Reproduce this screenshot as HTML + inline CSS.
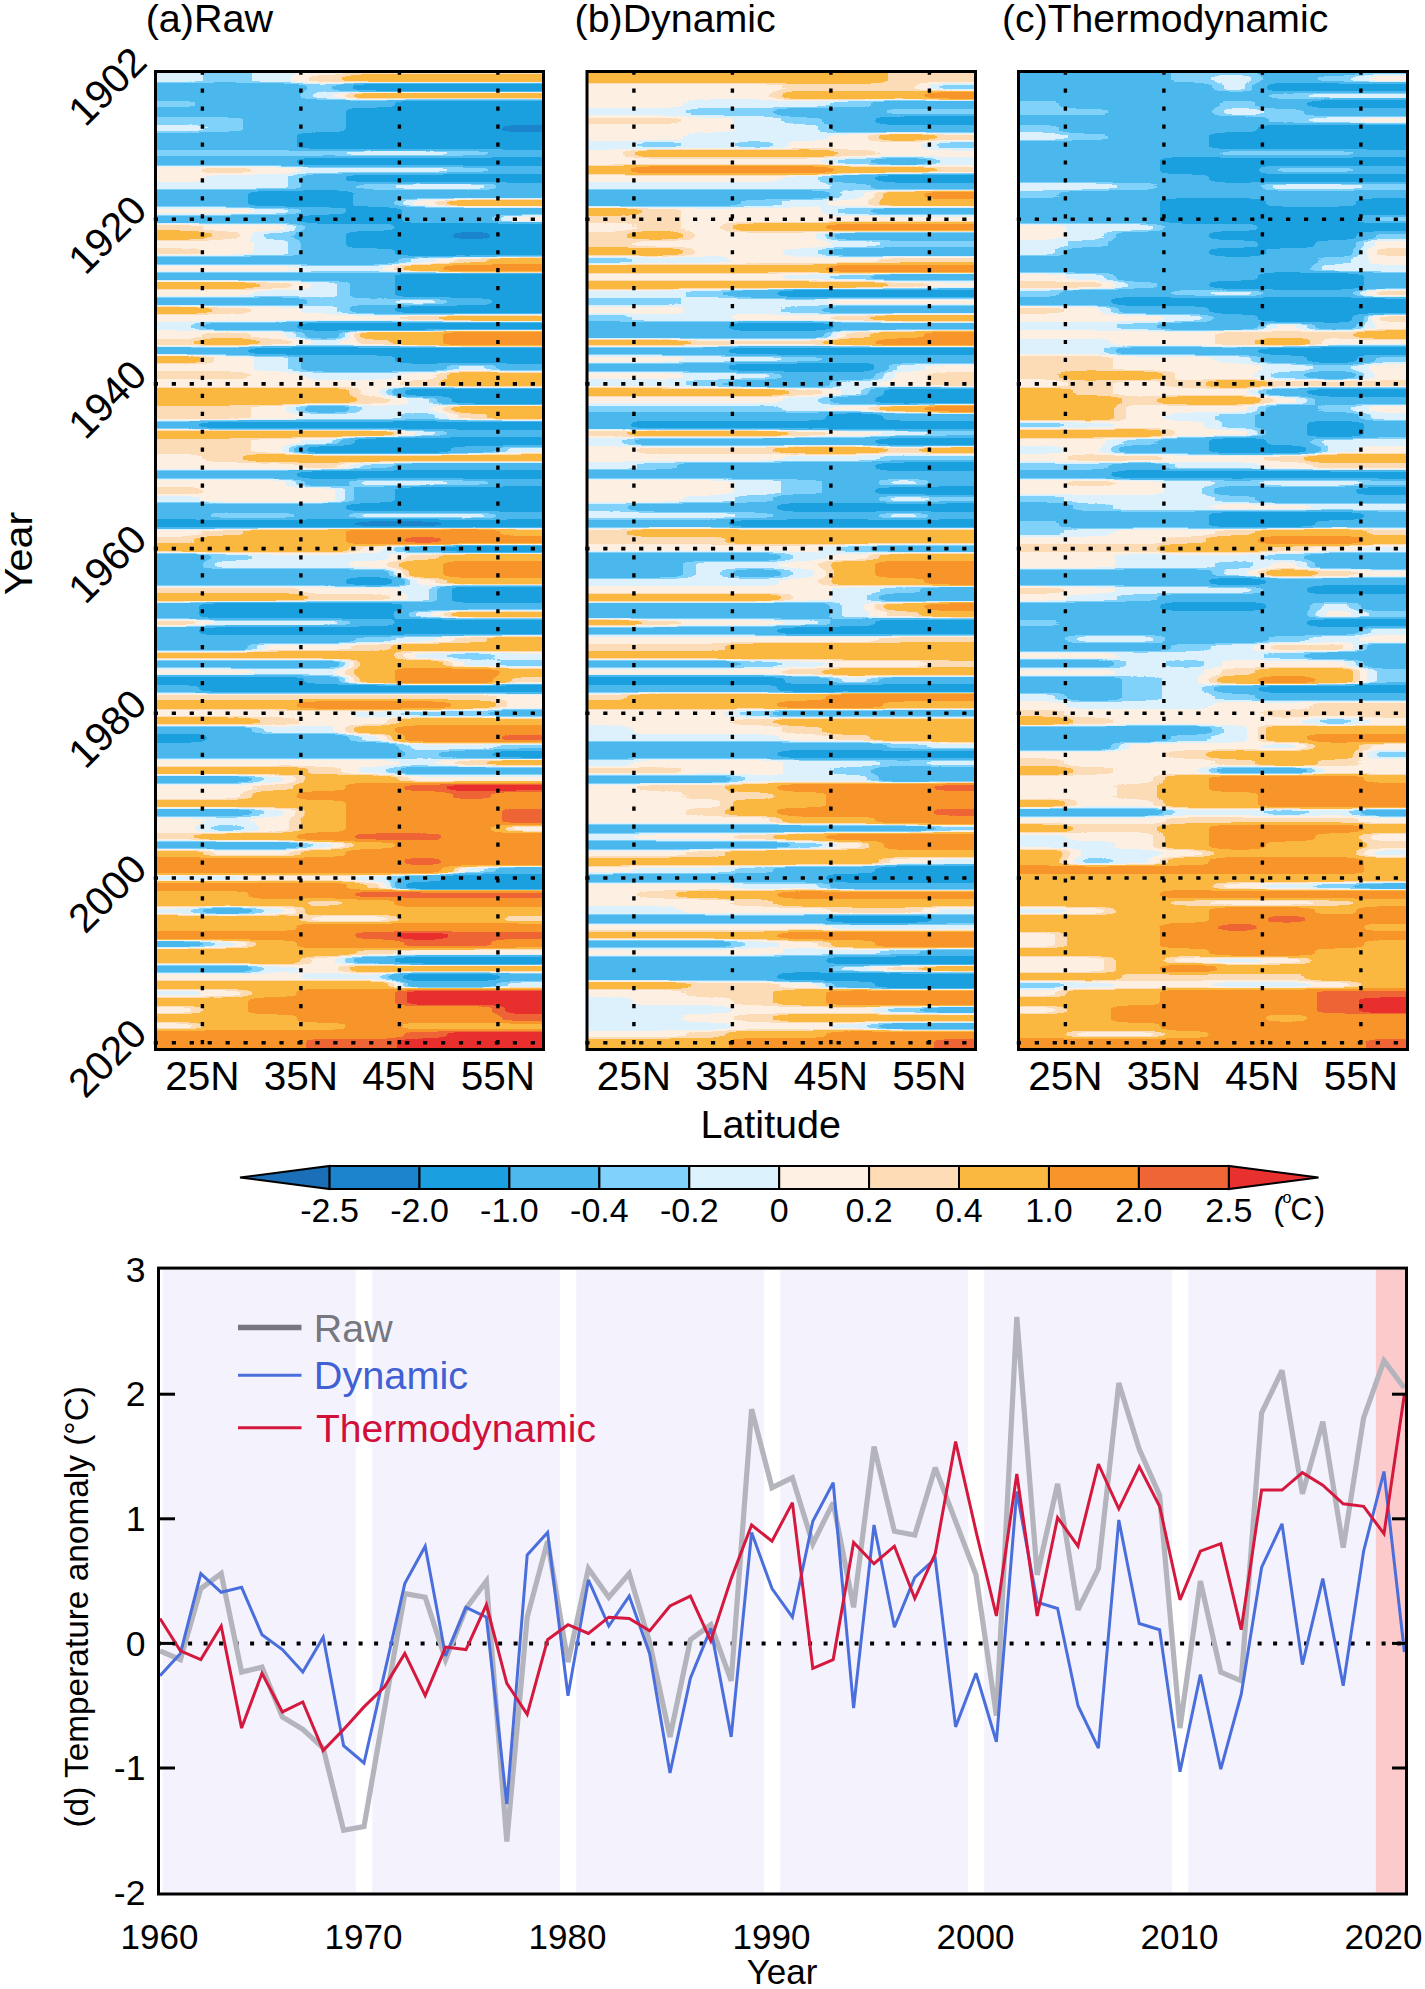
<!DOCTYPE html><html><head><meta charset="utf-8"><style>html,body{margin:0;padding:0;background:#fff;overflow:hidden;}svg{display:block}text{font-family:"Liberation Sans", sans-serif;}</style></head><body>
<svg width="1425" height="1989" viewBox="0 0 1425 1989">
<rect width="1425" height="1989" fill="#fff"/>
<defs><filter id="hm" filterUnits="userSpaceOnUse" x="0" y="0" width="1425" height="1989" color-interpolation-filters="sRGB"><feGaussianBlur stdDeviation="13.0 1.7"/><feComponentTransfer><feFuncR type="discrete" tableValues="0.102 0.102 0.102 0.102 0.102 0.102 0.102 0.102 0.102 0.102 0.102 0.102 0.102 0.102 0.102 0.102 0.102 0.102 0.102 0.102 0.102 0.102 0.298 0.298 0.298 0.298 0.298 0.298 0.502 0.502 0.863 0.863 0.996 0.996 0.992 0.992 0.984 0.984 0.984 0.984 0.984 0.984 0.969 0.969 0.969 0.969 0.969 0.969 0.969 0.969 0.969 0.969 0.937 0.937 0.937 0.937 0.937 0.910 0.910 0.910 0.910 0.910 0.910 0.910"/><feFuncG type="discrete" tableValues="0.435 0.435 0.435 0.435 0.435 0.435 0.435 0.522 0.522 0.522 0.522 0.522 0.627 0.627 0.627 0.627 0.627 0.627 0.627 0.627 0.627 0.627 0.722 0.722 0.722 0.722 0.722 0.722 0.824 0.824 0.949 0.949 0.941 0.941 0.863 0.863 0.722 0.722 0.722 0.722 0.722 0.722 0.584 0.584 0.584 0.584 0.584 0.584 0.584 0.584 0.584 0.584 0.396 0.396 0.396 0.396 0.396 0.188 0.188 0.188 0.188 0.188 0.188 0.188"/><feFuncB type="discrete" tableValues="0.722 0.722 0.722 0.722 0.722 0.722 0.722 0.800 0.800 0.800 0.800 0.800 0.878 0.878 0.878 0.878 0.878 0.878 0.878 0.878 0.878 0.878 0.933 0.933 0.933 0.933 0.933 0.933 0.988 0.988 0.992 0.992 0.886 0.886 0.714 0.714 0.251 0.251 0.251 0.251 0.251 0.251 0.165 0.165 0.165 0.165 0.165 0.165 0.165 0.165 0.165 0.165 0.208 0.208 0.208 0.208 0.208 0.180 0.180 0.180 0.180 0.180 0.180 0.180"/><feFuncA type="discrete" tableValues="1 1"/></feComponentTransfer></filter></defs>
<clipPath id="cpa"><rect x="156" y="72" width="387" height="977"/></clipPath>
<g clip-path="url(#cpa)"><g filter="url(#hm)">
<path fill="#7c7c7c" d="M94.0 30.00H202.9V75.12H94.0zM251.8 30.00H300.6V75.12H251.8zM94.0 75.12H202.9V83.35H94.0zM251.8 75.12H300.6V83.35H251.8zM300.6 91.59H349.5V99.82H300.6zM94.0 124.53H202.9V132.76H94.0zM349.5 149.23H447.2V157.47H349.5zM300.6 165.70H447.2V173.94H300.6zM202.9 173.94H300.6V182.17H202.9zM94.0 182.17H300.6V190.41H94.0zM398.4 182.17H496.1V190.41H398.4zM251.8 206.88H300.6V215.11H251.8zM251.8 239.82H300.6V248.05H251.8zM251.8 248.05H300.6V256.29H251.8zM398.4 256.29H447.2V264.52H398.4zM300.6 264.52H398.4V272.76H300.6zM300.6 280.99H349.5V289.23H300.6zM251.8 289.23H349.5V297.46H251.8zM398.4 297.46H447.2V305.70H398.4zM300.6 305.70H349.5V313.93H300.6zM94.0 322.17H202.9V330.40H94.0zM300.6 338.64H349.5V346.87H300.6zM251.8 355.11H300.6V363.34H251.8zM251.8 363.34H300.6V371.58H251.8zM447.2 363.34H496.1V371.58H447.2zM300.6 371.58H398.4V379.81H300.6zM398.4 396.28H447.2V404.52H398.4zM349.5 404.52H447.2V412.75H349.5zM300.6 412.75H398.4V420.99H300.6zM398.4 429.22H447.2V437.46H398.4zM300.6 437.46H349.5V445.69H300.6zM496.1 445.69H605.0V453.93H496.1zM349.5 478.63H447.2V486.87H349.5zM94.0 495.10H202.9V503.34H94.0zM349.5 511.57H496.1V519.81H349.5zM251.8 552.75H398.4V560.98H251.8zM202.9 560.98H349.5V569.22H202.9zM398.4 585.69H447.2V593.92H398.4zM398.4 593.92H447.2V602.16H398.4zM398.4 610.39H447.2V618.63H398.4zM202.9 618.63H349.5V626.86H202.9zM398.4 635.10H447.2V643.33H398.4zM398.4 651.57H447.2V659.80H398.4zM496.1 651.57H605.0V659.80H496.1zM447.2 659.80H496.1V668.04H447.2zM251.8 668.04H349.5V676.27H251.8zM349.5 709.21H398.4V717.45H349.5zM251.8 725.68H349.5V733.92H251.8zM349.5 733.92H398.4V742.15H349.5zM398.4 742.15H496.1V750.39H398.4zM398.4 758.62H447.2V766.86H398.4zM349.5 766.86H398.4V775.09H349.5zM251.8 775.09H300.6V783.33H251.8zM251.8 808.03H300.6V816.27H251.8zM202.9 816.27H251.8V824.50H202.9zM300.6 840.97H349.5V849.21H300.6zM447.2 865.68H496.1V873.91H447.2zM94.0 873.91H251.8V882.15H94.0zM349.5 873.91H398.4V882.15H349.5zM94.0 906.85H202.9V915.09H94.0zM251.8 906.85H300.6V915.09H251.8zM202.9 939.79H251.8V948.03H202.9zM251.8 964.50H300.6V972.73H251.8zM300.6 972.73H398.4V980.97H300.6zM496.1 980.97H605.0V989.20H496.1zM94.0 989.20H202.9V997.44H94.0z"/>
<path fill="#747474" d="M202.9 30.00H251.8V75.12H202.9zM202.9 75.12H251.8V83.35H202.9zM300.6 83.35H349.5V91.59H300.6zM94.0 99.82H202.9V108.06H94.0zM94.0 116.29H251.8V124.53H94.0zM202.9 124.53H251.8V132.76H202.9zM94.0 149.23H349.5V157.47H94.0zM447.2 149.23H496.1V157.47H447.2zM447.2 165.70H496.1V173.94H447.2zM349.5 182.17H398.4V190.41H349.5zM251.8 231.58H300.6V239.82H251.8zM300.6 297.46H398.4V305.70H300.6zM398.4 412.75H447.2V420.99H398.4zM349.5 462.16H398.4V470.40H349.5zM447.2 478.63H496.1V486.87H447.2zM202.9 511.57H300.6V519.81H202.9zM202.9 552.75H251.8V560.98H202.9zM349.5 635.10H398.4V643.33H349.5zM447.2 651.57H496.1V659.80H447.2zM496.1 659.80H605.0V668.04H496.1zM398.4 709.21H496.1V717.45H398.4zM496.1 742.15H605.0V750.39H496.1zM398.4 750.39H447.2V758.62H398.4zM202.9 824.50H251.8V832.74H202.9z"/>
<path fill="#838383" d="M300.6 30.00H349.5V75.12H300.6zM94.0 165.70H202.9V173.94H94.0zM251.8 165.70H300.6V173.94H251.8zM94.0 173.94H202.9V182.17H94.0zM398.4 198.64H447.2V206.88H398.4zM94.0 206.88H251.8V215.11H94.0zM496.1 215.11H605.0V223.35H496.1zM202.9 223.35H300.6V231.58H202.9zM94.0 239.82H251.8V248.05H94.0zM202.9 248.05H251.8V256.29H202.9zM94.0 264.52H300.6V272.76H94.0zM94.0 289.23H251.8V297.46H94.0zM251.8 305.70H300.6V313.93H251.8zM94.0 313.93H398.4V322.17H94.0zM94.0 330.40H202.9V338.64H94.0zM251.8 330.40H300.6V338.64H251.8zM202.9 355.11H251.8V363.34H202.9zM94.0 363.34H251.8V371.58H94.0zM251.8 371.58H300.6V379.81H251.8zM398.4 371.58H447.2V379.81H398.4zM94.0 379.81H398.4V388.05H94.0zM349.5 388.05H398.4V396.28H349.5zM251.8 404.52H300.6V412.75H251.8zM251.8 412.75H300.6V420.99H251.8zM251.8 437.46H300.6V445.69H251.8zM251.8 445.69H300.6V453.93H251.8zM94.0 453.93H202.9V462.16H94.0zM94.0 462.16H300.6V470.40H94.0zM94.0 478.63H300.6V486.87H94.0zM202.9 486.87H349.5V495.10H202.9zM202.9 495.10H349.5V503.34H202.9zM94.0 528.04H202.9V536.28H94.0zM349.5 544.51H398.4V552.75H349.5zM349.5 560.98H398.4V569.22H349.5zM398.4 577.45H447.2V585.69H398.4zM300.6 585.69H398.4V593.92H300.6zM251.8 643.33H349.5V651.57H251.8zM94.0 668.04H251.8V676.27H94.0zM496.1 692.74H605.0V700.98H496.1zM496.1 700.98H605.0V709.21H496.1zM94.0 709.21H349.5V717.45H94.0zM300.6 717.45H398.4V725.68H300.6zM94.0 758.62H398.4V766.86H94.0zM398.4 775.09H605.0V783.33H398.4zM94.0 783.33H251.8V791.56H94.0zM94.0 791.56H251.8V799.80H94.0zM94.0 816.27H202.9V824.50H94.0zM251.8 816.27H300.6V824.50H251.8zM94.0 824.50H202.9V832.74H94.0zM251.8 824.50H300.6V832.74H251.8zM496.1 824.50H605.0V832.74H496.1zM202.9 849.21H300.6V857.44H202.9zM251.8 873.91H349.5V882.15H251.8zM300.6 915.09H398.4V923.32H300.6zM398.4 948.03H605.0V956.26H398.4zM300.6 956.26H349.5V964.50H300.6zM300.6 964.50H349.5V972.73H300.6zM94.0 972.73H300.6V980.97H94.0zM202.9 989.20H251.8V997.44H202.9zM94.0 1005.67H202.9V1013.91H94.0zM94.0 1022.14H202.9V1030.38H94.0z"/>
<path fill="#8b8b8b" d="M349.5 30.00H605.0V75.12H349.5zM300.6 75.12H349.5V83.35H300.6zM202.9 165.70H251.8V173.94H202.9zM94.0 223.35H202.9V231.58H94.0zM202.9 231.58H251.8V239.82H202.9zM94.0 248.05H202.9V256.29H94.0zM447.2 256.29H496.1V264.52H447.2zM251.8 280.99H300.6V289.23H251.8zM202.9 305.70H251.8V313.93H202.9zM398.4 313.93H447.2V322.17H398.4zM202.9 330.40H251.8V338.64H202.9zM94.0 338.64H202.9V346.87H94.0zM251.8 338.64H300.6V346.87H251.8zM349.5 338.64H398.4V346.87H349.5zM94.0 371.58H251.8V379.81H94.0zM398.4 379.81H447.2V388.05H398.4zM349.5 396.28H398.4V404.52H349.5zM94.0 404.52H251.8V412.75H94.0zM94.0 412.75H251.8V420.99H94.0zM447.2 412.75H496.1V420.99H447.2zM94.0 437.46H251.8V445.69H94.0zM94.0 445.69H251.8V453.93H94.0zM202.9 453.93H251.8V462.16H202.9zM300.6 462.16H349.5V470.40H300.6zM94.0 486.87H202.9V495.10H94.0zM202.9 528.04H251.8V536.28H202.9zM94.0 536.28H202.9V544.51H94.0zM398.4 552.75H447.2V560.98H398.4zM94.0 585.69H300.6V593.92H94.0zM300.6 593.92H398.4V602.16H300.6zM94.0 618.63H202.9V626.86H94.0zM447.2 635.10H496.1V643.33H447.2zM349.5 643.33H398.4V651.57H349.5zM496.1 676.27H605.0V684.51H496.1zM94.0 692.74H496.1V700.98H94.0zM251.8 717.45H300.6V725.68H251.8zM447.2 758.62H496.1V766.86H447.2zM300.6 766.86H349.5V775.09H300.6zM251.8 783.33H300.6V791.56H251.8zM94.0 832.74H202.9V840.97H94.0zM349.5 882.15H398.4V890.38H349.5zM300.6 898.62H349.5V906.85H300.6zM496.1 915.09H605.0V923.32H496.1zM349.5 948.03H398.4V956.26H349.5z"/>
<path fill="#9b9b9b" d="M349.5 75.12H605.0V83.35H349.5zM349.5 91.59H605.0V99.82H349.5zM447.2 198.64H605.0V206.88H447.2zM94.0 231.58H202.9V239.82H94.0zM496.1 256.29H605.0V264.52H496.1zM398.4 264.52H447.2V272.76H398.4zM94.0 280.99H251.8V289.23H94.0zM94.0 305.70H202.9V313.93H94.0zM447.2 313.93H605.0V322.17H447.2zM349.5 330.40H447.2V338.64H349.5zM202.9 338.64H251.8V346.87H202.9zM398.4 338.64H447.2V346.87H398.4zM94.0 355.11H202.9V363.34H94.0zM447.2 371.58H605.0V379.81H447.2zM447.2 379.81H605.0V388.05H447.2zM94.0 388.05H349.5V396.28H94.0zM94.0 396.28H349.5V404.52H94.0zM447.2 404.52H605.0V412.75H447.2zM496.1 412.75H605.0V420.99H496.1zM94.0 429.22H398.4V437.46H94.0zM251.8 453.93H605.0V462.16H251.8zM251.8 528.04H349.5V536.28H251.8zM496.1 528.04H605.0V536.28H496.1zM202.9 536.28H349.5V544.51H202.9zM94.0 544.51H349.5V552.75H94.0zM447.2 552.75H605.0V560.98H447.2zM398.4 560.98H447.2V569.22H398.4zM398.4 569.22H447.2V577.45H398.4zM447.2 577.45H605.0V585.69H447.2zM94.0 593.92H300.6V602.16H94.0zM447.2 610.39H605.0V618.63H447.2zM496.1 635.10H605.0V643.33H496.1zM398.4 643.33H605.0V651.57H398.4zM94.0 651.57H398.4V659.80H94.0zM349.5 659.80H447.2V668.04H349.5zM349.5 668.04H398.4V676.27H349.5zM496.1 668.04H605.0V676.27H496.1zM349.5 676.27H398.4V684.51H349.5zM94.0 700.98H300.6V709.21H94.0zM447.2 700.98H496.1V709.21H447.2zM94.0 717.45H251.8V725.68H94.0zM398.4 717.45H605.0V725.68H398.4zM349.5 725.68H398.4V733.92H349.5zM496.1 758.62H605.0V766.86H496.1zM94.0 766.86H300.6V775.09H94.0zM300.6 775.09H398.4V783.33H300.6zM300.6 783.33H349.5V791.56H300.6zM251.8 791.56H300.6V799.80H251.8zM94.0 799.80H349.5V808.03H94.0zM300.6 808.03H349.5V816.27H300.6zM300.6 816.27H349.5V824.50H300.6zM300.6 824.50H349.5V832.74H300.6zM202.9 832.74H300.6V840.97H202.9zM349.5 840.97H398.4V849.21H349.5zM94.0 849.21H202.9V857.44H94.0zM300.6 849.21H349.5V857.44H300.6zM94.0 890.38H251.8V898.62H94.0zM94.0 898.62H300.6V906.85H94.0zM349.5 898.62H398.4V906.85H349.5zM300.6 906.85H605.0V915.09H300.6zM94.0 915.09H300.6V923.32H94.0zM398.4 915.09H496.1V923.32H398.4zM94.0 923.32H300.6V931.56H94.0zM251.8 939.79H300.6V948.03H251.8zM94.0 948.03H349.5V956.26H94.0zM94.0 956.26H300.6V964.50H94.0zM349.5 964.50H605.0V972.73H349.5zM94.0 980.97H398.4V989.20H94.0zM251.8 989.20H300.6V997.44H251.8zM94.0 997.44H251.8V1005.67H94.0zM202.9 1005.67H251.8V1013.91H202.9zM94.0 1013.91H300.6V1022.14H94.0zM202.9 1022.14H349.5V1030.38H202.9zM398.4 1022.14H605.0V1030.38H398.4z"/>
<path fill="#646464" d="M94.0 83.35H300.6V91.59H94.0zM94.0 91.59H300.6V99.82H94.0zM202.9 99.82H398.4V108.06H202.9zM94.0 108.06H349.5V116.29H94.0zM251.8 116.29H349.5V124.53H251.8zM251.8 124.53H349.5V132.76H251.8zM94.0 132.76H300.6V141.00H94.0zM94.0 141.00H300.6V149.23H94.0zM496.1 149.23H605.0V157.47H496.1zM94.0 157.47H300.6V165.70H94.0zM496.1 165.70H605.0V173.94H496.1zM300.6 173.94H349.5V182.17H300.6zM300.6 182.17H349.5V190.41H300.6zM496.1 182.17H605.0V190.41H496.1zM94.0 190.41H251.8V198.64H94.0zM349.5 190.41H605.0V198.64H349.5zM94.0 198.64H251.8V206.88H94.0zM349.5 198.64H398.4V206.88H349.5zM300.6 206.88H349.5V215.11H300.6zM398.4 206.88H605.0V215.11H398.4zM94.0 215.11H300.6V223.35H94.0zM398.4 215.11H496.1V223.35H398.4zM300.6 223.35H398.4V231.58H300.6zM300.6 231.58H349.5V239.82H300.6zM300.6 239.82H349.5V248.05H300.6zM300.6 248.05H398.4V256.29H300.6zM94.0 256.29H398.4V264.52H94.0zM94.0 272.76H398.4V280.99H94.0zM349.5 280.99H398.4V289.23H349.5zM349.5 289.23H398.4V297.46H349.5zM94.0 297.46H300.6V305.70H94.0zM447.2 297.46H496.1V305.70H447.2zM349.5 305.70H398.4V313.93H349.5zM202.9 322.17H300.6V330.40H202.9zM300.6 330.40H349.5V338.64H300.6zM94.0 346.87H251.8V355.11H94.0zM300.6 355.11H398.4V363.34H300.6zM300.6 363.34H447.2V371.58H300.6zM496.1 363.34H605.0V371.58H496.1zM300.6 404.52H349.5V412.75H300.6zM94.0 420.99H202.9V429.22H94.0zM447.2 429.22H605.0V437.46H447.2zM447.2 445.69H496.1V453.93H447.2zM398.4 462.16H605.0V470.40H398.4zM94.0 470.40H300.6V478.63H94.0zM300.6 478.63H349.5V486.87H300.6zM496.1 478.63H605.0V486.87H496.1zM349.5 486.87H398.4V495.10H349.5zM349.5 495.10H398.4V503.34H349.5zM94.0 503.34H349.5V511.57H94.0zM94.0 511.57H202.9V519.81H94.0zM300.6 511.57H349.5V519.81H300.6zM496.1 511.57H605.0V519.81H496.1zM398.4 544.51H447.2V552.75H398.4zM94.0 552.75H202.9V560.98H94.0zM94.0 560.98H202.9V569.22H94.0zM94.0 569.22H398.4V577.45H94.0zM94.0 577.45H349.5V585.69H94.0zM94.0 602.16H202.9V610.39H94.0zM398.4 602.16H605.0V610.39H398.4zM94.0 610.39H202.9V618.63H94.0zM349.5 618.63H398.4V626.86H349.5zM94.0 626.86H202.9V635.10H94.0zM94.0 635.10H349.5V643.33H94.0zM94.0 643.33H251.8V651.57H94.0zM94.0 659.80H349.5V668.04H94.0zM300.6 676.27H349.5V684.51H300.6zM94.0 684.51H202.9V692.74H94.0zM496.1 709.21H605.0V717.45H496.1zM94.0 725.68H251.8V733.92H94.0zM202.9 733.92H349.5V742.15H202.9zM94.0 742.15H398.4V750.39H94.0zM94.0 750.39H398.4V758.62H94.0zM447.2 750.39H496.1V758.62H447.2zM398.4 766.86H605.0V775.09H398.4zM94.0 775.09H251.8V783.33H94.0zM94.0 808.03H251.8V816.27H94.0zM94.0 840.97H300.6V849.21H94.0zM496.1 865.68H605.0V873.91H496.1zM398.4 873.91H447.2V882.15H398.4zM202.9 906.85H251.8V915.09H202.9zM94.0 939.79H202.9V948.03H94.0zM349.5 956.26H398.4V964.50H349.5zM94.0 964.50H251.8V972.73H94.0zM496.1 972.73H605.0V980.97H496.1zM398.4 980.97H496.1V989.20H398.4z"/>
<path fill="#444444" d="M349.5 83.35H605.0V91.59H349.5zM398.4 99.82H605.0V108.06H398.4zM349.5 108.06H605.0V116.29H349.5zM349.5 116.29H605.0V124.53H349.5zM349.5 124.53H496.1V132.76H349.5zM300.6 132.76H605.0V141.00H300.6zM300.6 141.00H605.0V149.23H300.6zM300.6 157.47H605.0V165.70H300.6zM349.5 173.94H605.0V182.17H349.5zM251.8 190.41H349.5V198.64H251.8zM251.8 198.64H349.5V206.88H251.8zM349.5 206.88H398.4V215.11H349.5zM300.6 215.11H398.4V223.35H300.6zM398.4 223.35H605.0V231.58H398.4zM349.5 231.58H447.2V239.82H349.5zM496.1 231.58H605.0V239.82H496.1zM349.5 239.82H605.0V248.05H349.5zM398.4 248.05H605.0V256.29H398.4zM398.4 272.76H605.0V280.99H398.4zM398.4 280.99H605.0V289.23H398.4zM398.4 289.23H605.0V297.46H398.4zM496.1 297.46H605.0V305.70H496.1zM398.4 305.70H605.0V313.93H398.4zM300.6 322.17H605.0V330.40H300.6zM251.8 346.87H605.0V355.11H251.8zM398.4 355.11H605.0V363.34H398.4zM398.4 388.05H605.0V396.28H398.4zM447.2 396.28H605.0V404.52H447.2zM202.9 420.99H605.0V429.22H202.9zM349.5 437.46H605.0V445.69H349.5zM300.6 445.69H447.2V453.93H300.6zM300.6 470.40H605.0V478.63H300.6zM398.4 486.87H605.0V495.10H398.4zM398.4 495.10H605.0V503.34H398.4zM349.5 503.34H605.0V511.57H349.5zM94.0 519.81H349.5V528.04H94.0zM447.2 519.81H605.0V528.04H447.2zM447.2 544.51H605.0V552.75H447.2zM349.5 577.45H398.4V585.69H349.5zM447.2 585.69H605.0V593.92H447.2zM447.2 593.92H605.0V602.16H447.2zM202.9 602.16H398.4V610.39H202.9zM202.9 610.39H398.4V618.63H202.9zM398.4 618.63H605.0V626.86H398.4zM202.9 626.86H605.0V635.10H202.9zM94.0 676.27H300.6V684.51H94.0zM202.9 684.51H605.0V692.74H202.9zM94.0 733.92H202.9V742.15H94.0zM496.1 750.39H605.0V758.62H496.1zM447.2 873.91H605.0V882.15H447.2zM398.4 882.15H605.0V890.38H398.4zM398.4 956.26H605.0V964.50H398.4zM398.4 972.73H496.1V980.97H398.4z"/>
<path fill="#262626" d="M496.1 124.53H605.0V132.76H496.1zM447.2 231.58H496.1V239.82H447.2zM349.5 519.81H447.2V528.04H349.5z"/>
<path fill="#bbbbbb" d="M447.2 264.52H605.0V272.76H447.2zM447.2 330.40H605.0V338.64H447.2zM447.2 338.64H605.0V346.87H447.2zM349.5 528.04H496.1V536.28H349.5zM349.5 536.28H398.4V544.51H349.5zM447.2 536.28H605.0V544.51H447.2zM447.2 560.98H605.0V569.22H447.2zM447.2 569.22H605.0V577.45H447.2zM398.4 668.04H496.1V676.27H398.4zM398.4 676.27H496.1V684.51H398.4zM300.6 700.98H447.2V709.21H300.6zM398.4 725.68H605.0V733.92H398.4zM398.4 733.92H496.1V742.15H398.4zM349.5 783.33H398.4V791.56H349.5zM300.6 791.56H447.2V799.80H300.6zM496.1 791.56H605.0V799.80H496.1zM349.5 799.80H605.0V808.03H349.5zM349.5 808.03H496.1V816.27H349.5zM349.5 816.27H496.1V824.50H349.5zM349.5 824.50H496.1V832.74H349.5zM300.6 832.74H349.5V840.97H300.6zM447.2 832.74H605.0V840.97H447.2zM398.4 840.97H605.0V849.21H398.4zM349.5 849.21H605.0V857.44H349.5zM94.0 857.44H398.4V865.68H94.0zM447.2 857.44H605.0V865.68H447.2zM94.0 865.68H447.2V873.91H94.0zM94.0 882.15H349.5V890.38H94.0zM251.8 890.38H349.5V898.62H251.8zM398.4 898.62H605.0V906.85H398.4zM300.6 923.32H605.0V931.56H300.6zM94.0 931.56H349.5V939.79H94.0zM300.6 939.79H398.4V948.03H300.6zM496.1 939.79H605.0V948.03H496.1zM300.6 989.20H398.4V997.44H300.6zM251.8 997.44H398.4V1005.67H251.8zM251.8 1005.67H496.1V1013.91H251.8zM300.6 1013.91H496.1V1022.14H300.6zM349.5 1022.14H398.4V1030.38H349.5zM94.0 1030.38H398.4V1038.61H94.0zM94.0 1038.61H300.6V1091.00H94.0z"/>
<path fill="#d9d9d9" d="M398.4 536.28H447.2V544.51H398.4zM496.1 733.92H605.0V742.15H496.1zM398.4 783.33H447.2V791.56H398.4zM447.2 791.56H496.1V799.80H447.2zM496.1 808.03H605.0V816.27H496.1zM496.1 816.27H605.0V824.50H496.1zM349.5 832.74H447.2V840.97H349.5zM398.4 857.44H447.2V865.68H398.4zM349.5 890.38H605.0V898.62H349.5zM349.5 931.56H398.4V939.79H349.5zM447.2 931.56H605.0V939.79H447.2zM398.4 939.79H496.1V948.03H398.4zM496.1 1013.91H605.0V1022.14H496.1zM398.4 1030.38H447.2V1038.61H398.4zM300.6 1038.61H398.4V1091.00H300.6z"/>
<path fill="#efefef" d="M447.2 783.33H605.0V791.56H447.2zM398.4 931.56H447.2V939.79H398.4zM398.4 989.20H605.0V997.44H398.4zM398.4 997.44H605.0V1005.67H398.4zM496.1 1005.67H605.0V1013.91H496.1zM447.2 1030.38H605.0V1038.61H447.2zM398.4 1038.61H605.0V1091.00H398.4z"/>
</g></g>
<g stroke="#000" stroke-width="3.6" stroke-dasharray="4.2 13.75" fill="none"><line x1="202.4" y1="70.66" x2="202.4" y2="1049" stroke-width="3.4"/><line x1="300.9" y1="70.66" x2="300.9" y2="1049" stroke-width="3.4"/><line x1="399.4" y1="70.66" x2="399.4" y2="1049" stroke-width="3.4"/><line x1="497.9" y1="70.66" x2="497.9" y2="1049" stroke-width="3.4"/><line x1="153.8" y1="219.2" x2="543" y2="219.2"/><line x1="153.8" y1="383.9" x2="543" y2="383.9"/><line x1="153.8" y1="548.6" x2="543" y2="548.6"/><line x1="153.8" y1="713.3" x2="543" y2="713.3"/><line x1="153.8" y1="878.0" x2="543" y2="878.0"/><line x1="153.8" y1="1042.7" x2="543" y2="1042.7"/></g>
<rect x="155.5" y="71.5" width="388" height="978" fill="none" stroke="#000" stroke-width="3"/>
<text x="145.7" y="32" font-size="38" textLength="127.4" lengthAdjust="spacingAndGlyphs">(a)Raw</text>
<text x="202.4" y="1089.5" font-size="40.5" text-anchor="middle">25N</text>
<text x="300.9" y="1089.5" font-size="40.5" text-anchor="middle">35N</text>
<text x="399.4" y="1089.5" font-size="40.5" text-anchor="middle">45N</text>
<text x="497.9" y="1089.5" font-size="40.5" text-anchor="middle">55N</text>
<clipPath id="cpb"><rect x="587.5" y="72" width="387.5" height="977"/></clipPath>
<g clip-path="url(#cpb)"><g filter="url(#hm)">
<path fill="#9b9b9b" d="M525.5 30.00H879.1V75.12H525.5zM525.5 75.12H879.1V83.35H525.5zM781.2 91.59H928.1V99.82H781.2zM879.1 132.76H928.1V141.00H879.1zM634.4 149.23H830.2V157.47H634.4zM525.5 165.70H634.4V173.94H525.5zM830.2 165.70H928.1V173.94H830.2zM879.1 190.41H928.1V198.64H879.1zM879.1 198.64H1037.0V206.88H879.1zM525.5 206.88H634.4V215.11H525.5zM732.3 223.35H830.2V231.58H732.3zM634.4 231.58H683.4V239.82H634.4zM525.5 248.05H683.4V256.29H525.5zM525.5 264.52H830.2V272.76H525.5zM525.5 280.99H879.1V289.23H525.5zM879.1 313.93H1037.0V322.17H879.1zM879.1 330.40H928.1V338.64H879.1zM525.5 338.64H683.4V346.87H525.5zM830.2 338.64H879.1V346.87H830.2zM525.5 388.05H781.2V396.28H525.5zM879.1 404.52H928.1V412.75H879.1zM634.4 429.22H781.2V437.46H634.4zM781.2 445.69H879.1V453.93H781.2zM928.1 445.69H1037.0V453.93H928.1zM634.4 528.04H1037.0V536.28H634.4zM732.3 536.28H1037.0V544.51H732.3zM879.1 552.75H1037.0V560.98H879.1zM830.2 560.98H879.1V569.22H830.2zM830.2 569.22H879.1V577.45H830.2zM830.2 577.45H928.1V585.69H830.2zM525.5 593.92H781.2V602.16H525.5zM879.1 602.16H928.1V610.39H879.1zM928.1 610.39H1037.0V618.63H928.1zM525.5 618.63H634.4V626.86H525.5zM732.3 643.33H1037.0V651.57H732.3zM525.5 651.57H1037.0V659.80H525.5zM830.2 668.04H1037.0V676.27H830.2zM634.4 692.74H830.2V700.98H634.4zM525.5 700.98H781.2V709.21H525.5zM879.1 700.98H1037.0V709.21H879.1zM781.2 717.45H1037.0V725.68H781.2zM830.2 725.68H1037.0V733.92H830.2zM879.1 733.92H1037.0V742.15H879.1zM732.3 783.33H781.2V791.56H732.3zM781.2 791.56H830.2V799.80H781.2zM732.3 799.80H830.2V808.03H732.3zM732.3 808.03H781.2V816.27H732.3zM781.2 816.27H879.1V824.50H781.2zM781.2 832.74H830.2V840.97H781.2zM732.3 849.21H1037.0V857.44H732.3zM525.5 857.44H879.1V865.68H525.5zM683.4 890.38H781.2V898.62H683.4zM781.2 898.62H1037.0V906.85H781.2zM525.5 931.56H781.2V939.79H525.5zM830.2 939.79H879.1V948.03H830.2zM928.1 964.50H1037.0V972.73H928.1zM525.5 980.97H683.4V989.20H525.5zM781.2 989.20H830.2V997.44H781.2zM781.2 997.44H830.2V1005.67H781.2zM781.2 1013.91H1037.0V1022.14H781.2zM732.3 1030.38H830.2V1038.61H732.3zM525.5 1038.61H732.3V1091.00H525.5z"/>
<path fill="#8b8b8b" d="M879.1 30.00H1037.0V75.12H879.1zM879.1 75.12H1037.0V83.35H879.1zM781.2 83.35H928.1V91.59H781.2zM525.5 116.29H683.4V124.53H525.5zM928.1 132.76H1037.0V141.00H928.1zM830.2 149.23H879.1V157.47H830.2zM928.1 165.70H1037.0V173.94H928.1zM634.4 206.88H683.4V215.11H634.4zM525.5 215.11H683.4V223.35H525.5zM634.4 223.35H683.4V231.58H634.4zM525.5 231.58H634.4V239.82H525.5zM525.5 239.82H634.4V248.05H525.5zM879.1 256.29H1037.0V264.52H879.1zM879.1 280.99H928.1V289.23H879.1zM830.2 313.93H879.1V322.17H830.2zM830.2 330.40H879.1V338.64H830.2zM683.4 338.64H830.2V346.87H683.4zM928.1 371.58H1037.0V379.81H928.1zM928.1 379.81H1037.0V388.05H928.1zM781.2 388.05H830.2V396.28H781.2zM525.5 429.22H634.4V437.46H525.5zM781.2 429.22H830.2V437.46H781.2zM634.4 445.69H781.2V453.93H634.4zM879.1 445.69H928.1V453.93H879.1zM525.5 528.04H634.4V536.28H525.5zM525.5 536.28H732.3V544.51H525.5zM879.1 610.39H928.1V618.63H879.1zM634.4 618.63H683.4V626.86H634.4zM879.1 635.10H1037.0V643.33H879.1zM525.5 643.33H732.3V651.57H525.5zM928.1 659.80H1037.0V668.04H928.1zM781.2 668.04H830.2V676.27H781.2zM525.5 692.74H634.4V700.98H525.5zM732.3 717.45H781.2V725.68H732.3zM781.2 725.68H830.2V733.92H781.2zM830.2 733.92H879.1V742.15H830.2zM525.5 766.86H683.4V775.09H525.5zM634.4 783.33H732.3V791.56H634.4zM683.4 791.56H781.2V799.80H683.4zM683.4 808.03H732.3V816.27H683.4zM732.3 832.74H781.2V840.97H732.3zM683.4 849.21H732.3V857.44H683.4zM634.4 890.38H683.4V898.62H634.4zM732.3 898.62H781.2V906.85H732.3zM830.2 906.85H928.1V915.09H830.2zM879.1 964.50H928.1V972.73H879.1zM683.4 980.97H781.2V989.20H683.4zM683.4 989.20H781.2V997.44H683.4zM732.3 997.44H781.2V1005.67H732.3zM732.3 1013.91H781.2V1022.14H732.3zM683.4 1030.38H732.3V1038.61H683.4z"/>
<path fill="#838383" d="M525.5 83.35H781.2V91.59H525.5zM525.5 91.59H781.2V99.82H525.5zM525.5 99.82H683.4V108.06H525.5zM683.4 116.29H732.3V124.53H683.4zM525.5 124.53H732.3V132.76H525.5zM525.5 132.76H683.4V141.00H525.5zM830.2 132.76H879.1V141.00H830.2zM781.2 141.00H928.1V149.23H781.2zM525.5 149.23H634.4V157.47H525.5zM879.1 149.23H1037.0V157.47H879.1zM525.5 157.47H830.2V165.70H525.5zM525.5 173.94H781.2V182.17H525.5zM830.2 198.64H879.1V206.88H830.2zM683.4 206.88H830.2V215.11H683.4zM683.4 215.11H1037.0V223.35H683.4zM525.5 223.35H634.4V231.58H525.5zM683.4 223.35H732.3V231.58H683.4zM683.4 231.58H830.2V239.82H683.4zM634.4 239.82H830.2V248.05H634.4zM683.4 248.05H781.2V256.29H683.4zM732.3 256.29H879.1V264.52H732.3zM525.5 272.76H781.2V280.99H525.5zM928.1 280.99H1037.0V289.23H928.1zM830.2 297.46H1037.0V305.70H830.2zM525.5 305.70H683.4V313.93H525.5zM732.3 313.93H830.2V322.17H732.3zM525.5 355.11H683.4V363.34H525.5zM928.1 363.34H1037.0V371.58H928.1zM525.5 371.58H683.4V379.81H525.5zM879.1 371.58H928.1V379.81H879.1zM879.1 379.81H928.1V388.05H879.1zM525.5 396.28H781.2V404.52H525.5zM830.2 404.52H879.1V412.75H830.2zM830.2 429.22H879.1V437.46H830.2zM525.5 445.69H634.4V453.93H525.5zM525.5 453.93H781.2V462.16H525.5zM525.5 478.63H732.3V486.87H525.5zM525.5 486.87H732.3V495.10H525.5zM525.5 495.10H683.4V503.34H525.5zM525.5 544.51H830.2V552.75H525.5zM830.2 552.75H879.1V560.98H830.2zM781.2 560.98H830.2V569.22H781.2zM781.2 577.45H830.2V585.69H781.2zM525.5 585.69H830.2V593.92H525.5zM781.2 593.92H830.2V602.16H781.2zM683.4 618.63H781.2V626.86H683.4zM525.5 635.10H879.1V643.33H525.5zM830.2 659.80H928.1V668.04H830.2zM525.5 668.04H781.2V676.27H525.5zM525.5 709.21H732.3V717.45H525.5zM525.5 717.45H732.3V725.68H525.5zM634.4 725.68H781.2V733.92H634.4zM781.2 733.92H830.2V742.15H781.2zM634.4 758.62H781.2V766.86H634.4zM683.4 766.86H781.2V775.09H683.4zM525.5 783.33H634.4V791.56H525.5zM525.5 791.56H683.4V799.80H525.5zM525.5 799.80H732.3V808.03H525.5zM525.5 808.03H683.4V816.27H525.5zM525.5 816.27H781.2V824.50H525.5zM634.4 832.74H732.3V840.97H634.4zM830.2 840.97H879.1V849.21H830.2zM525.5 849.21H683.4V857.44H525.5zM879.1 857.44H928.1V865.68H879.1zM525.5 865.68H634.4V873.91H525.5zM525.5 882.15H732.3V890.38H525.5zM525.5 890.38H634.4V898.62H525.5zM525.5 898.62H732.3V906.85H525.5zM683.4 906.85H830.2V915.09H683.4zM525.5 923.32H830.2V931.56H525.5zM781.2 939.79H830.2V948.03H781.2zM525.5 948.03H781.2V956.26H525.5zM781.2 980.97H830.2V989.20H781.2zM525.5 989.20H683.4V997.44H525.5zM634.4 997.44H732.3V1005.67H634.4zM732.3 1005.67H879.1V1013.91H732.3zM683.4 1013.91H732.3V1022.14H683.4zM732.3 1022.14H830.2V1030.38H732.3zM525.5 1030.38H683.4V1038.61H525.5z"/>
<path fill="#747474" d="M928.1 83.35H1037.0V91.59H928.1zM830.2 99.82H879.1V108.06H830.2zM683.4 108.06H781.2V116.29H683.4zM879.1 108.06H1037.0V116.29H879.1zM781.2 116.29H830.2V124.53H781.2zM634.4 141.00H683.4V149.23H634.4zM732.3 141.00H781.2V149.23H732.3zM928.1 141.00H1037.0V149.23H928.1zM830.2 157.47H879.1V165.70H830.2zM830.2 182.17H879.1V190.41H830.2zM732.3 198.64H781.2V206.88H732.3zM830.2 206.88H879.1V215.11H830.2zM879.1 239.82H1037.0V248.05H879.1zM525.5 256.29H634.4V264.52H525.5zM830.2 272.76H879.1V280.99H830.2zM683.4 289.23H732.3V297.46H683.4zM525.5 297.46H683.4V305.70H525.5zM781.2 305.70H830.2V313.93H781.2zM525.5 313.93H634.4V322.17H525.5zM781.2 355.11H830.2V363.34H781.2zM683.4 379.81H732.3V388.05H683.4zM525.5 404.52H781.2V412.75H525.5zM928.1 429.22H1037.0V437.46H928.1zM879.1 453.93H1037.0V462.16H879.1zM634.4 462.16H683.4V470.40H634.4zM781.2 478.63H830.2V486.87H781.2zM781.2 486.87H830.2V495.10H781.2zM732.3 495.10H781.2V503.34H732.3zM928.1 495.10H1037.0V503.34H928.1zM525.5 503.34H634.4V511.57H525.5zM732.3 511.57H781.2V519.81H732.3zM830.2 544.51H879.1V552.75H830.2zM879.1 585.69H928.1V593.92H879.1zM732.3 659.80H781.2V668.04H732.3zM732.3 709.21H781.2V717.45H732.3zM879.1 742.15H928.1V750.39H879.1zM879.1 758.62H928.1V766.86H879.1zM830.2 766.86H879.1V775.09H830.2zM928.1 824.50H1037.0V832.74H928.1zM781.2 840.97H830.2V849.21H781.2zM732.3 865.68H781.2V873.91H732.3zM879.1 948.03H928.1V956.26H879.1zM879.1 1005.67H928.1V1013.91H879.1z"/>
<path fill="#bbbbbb" d="M928.1 91.59H1037.0V99.82H928.1zM634.4 165.70H830.2V173.94H634.4zM928.1 190.41H1037.0V198.64H928.1zM830.2 223.35H1037.0V231.58H830.2zM830.2 264.52H1037.0V272.76H830.2zM928.1 330.40H1037.0V338.64H928.1zM879.1 338.64H1037.0V346.87H879.1zM928.1 404.52H1037.0V412.75H928.1zM879.1 560.98H1037.0V569.22H879.1zM879.1 569.22H1037.0V577.45H879.1zM928.1 577.45H1037.0V585.69H928.1zM928.1 602.16H1037.0V610.39H928.1zM830.2 692.74H1037.0V700.98H830.2zM781.2 700.98H879.1V709.21H781.2zM781.2 783.33H928.1V791.56H781.2zM830.2 791.56H1037.0V799.80H830.2zM830.2 799.80H1037.0V808.03H830.2zM781.2 808.03H928.1V816.27H781.2zM879.1 816.27H1037.0V824.50H879.1zM830.2 832.74H1037.0V840.97H830.2zM879.1 840.97H1037.0V849.21H879.1zM781.2 890.38H1037.0V898.62H781.2zM781.2 931.56H1037.0V939.79H781.2zM879.1 939.79H1037.0V948.03H879.1zM830.2 989.20H1037.0V997.44H830.2zM830.2 997.44H1037.0V1005.67H830.2zM830.2 1030.38H1037.0V1038.61H830.2zM732.3 1038.61H928.1V1091.00H732.3z"/>
<path fill="#7c7c7c" d="M683.4 99.82H830.2V108.06H683.4zM525.5 108.06H683.4V116.29H525.5zM732.3 116.29H781.2V124.53H732.3zM732.3 124.53H830.2V132.76H732.3zM683.4 132.76H830.2V141.00H683.4zM525.5 141.00H634.4V149.23H525.5zM683.4 141.00H732.3V149.23H683.4zM928.1 157.47H1037.0V165.70H928.1zM781.2 173.94H830.2V182.17H781.2zM525.5 182.17H830.2V190.41H525.5zM830.2 190.41H879.1V198.64H830.2zM781.2 198.64H830.2V206.88H781.2zM830.2 239.82H879.1V248.05H830.2zM781.2 248.05H830.2V256.29H781.2zM634.4 256.29H732.3V264.52H634.4zM781.2 272.76H830.2V280.99H781.2zM525.5 289.23H683.4V297.46H525.5zM683.4 297.46H830.2V305.70H683.4zM683.4 305.70H781.2V313.93H683.4zM634.4 313.93H732.3V322.17H634.4zM683.4 355.11H781.2V363.34H683.4zM879.1 363.34H928.1V371.58H879.1zM683.4 371.58H781.2V379.81H683.4zM525.5 379.81H683.4V388.05H525.5zM830.2 379.81H879.1V388.05H830.2zM830.2 388.05H879.1V396.28H830.2zM781.2 396.28H830.2V404.52H781.2zM781.2 404.52H830.2V412.75H781.2zM879.1 429.22H928.1V437.46H879.1zM525.5 437.46H634.4V445.69H525.5zM781.2 453.93H879.1V462.16H781.2zM525.5 462.16H634.4V470.40H525.5zM732.3 478.63H781.2V486.87H732.3zM879.1 478.63H928.1V486.87H879.1zM732.3 486.87H781.2V495.10H732.3zM683.4 495.10H732.3V503.34H683.4zM879.1 495.10H928.1V503.34H879.1zM525.5 511.57H732.3V519.81H525.5zM879.1 511.57H928.1V519.81H879.1zM781.2 552.75H830.2V560.98H781.2zM683.4 560.98H781.2V569.22H683.4zM683.4 569.22H732.3V577.45H683.4zM781.2 569.22H830.2V577.45H781.2zM525.5 577.45H781.2V585.69H525.5zM830.2 585.69H879.1V593.92H830.2zM830.2 593.92H879.1V602.16H830.2zM830.2 602.16H879.1V610.39H830.2zM830.2 610.39H879.1V618.63H830.2zM781.2 618.63H830.2V626.86H781.2zM781.2 659.80H830.2V668.04H781.2zM830.2 676.27H879.1V684.51H830.2zM525.5 725.68H634.4V733.92H525.5zM525.5 733.92H781.2V742.15H525.5zM928.1 742.15H1037.0V750.39H928.1zM525.5 758.62H634.4V766.86H525.5zM781.2 758.62H879.1V766.86H781.2zM928.1 758.62H1037.0V766.86H928.1zM781.2 766.86H830.2V775.09H781.2zM732.3 775.09H879.1V783.33H732.3zM525.5 832.74H634.4V840.97H525.5zM928.1 857.44H1037.0V865.68H928.1zM634.4 865.68H732.3V873.91H634.4zM732.3 882.15H830.2V890.38H732.3zM525.5 906.85H683.4V915.09H525.5zM928.1 906.85H1037.0V915.09H928.1zM830.2 923.32H1037.0V931.56H830.2zM732.3 939.79H781.2V948.03H732.3zM781.2 948.03H879.1V956.26H781.2zM830.2 964.50H879.1V972.73H830.2zM525.5 997.44H634.4V1005.67H525.5zM525.5 1005.67H732.3V1013.91H525.5zM525.5 1013.91H683.4V1022.14H525.5zM525.5 1022.14H732.3V1030.38H525.5zM830.2 1022.14H879.1V1030.38H830.2z"/>
<path fill="#646464" d="M879.1 99.82H1037.0V108.06H879.1zM781.2 108.06H879.1V116.29H781.2zM830.2 116.29H879.1V124.53H830.2zM830.2 124.53H1037.0V132.76H830.2zM879.1 157.47H928.1V165.70H879.1zM830.2 173.94H879.1V182.17H830.2zM879.1 182.17H1037.0V190.41H879.1zM525.5 190.41H830.2V198.64H525.5zM525.5 198.64H732.3V206.88H525.5zM879.1 206.88H1037.0V215.11H879.1zM830.2 231.58H1037.0V239.82H830.2zM830.2 248.05H1037.0V256.29H830.2zM879.1 272.76H1037.0V280.99H879.1zM732.3 289.23H781.2V297.46H732.3zM830.2 305.70H1037.0V313.93H830.2zM525.5 322.17H732.3V330.40H525.5zM830.2 322.17H1037.0V330.40H830.2zM525.5 330.40H830.2V338.64H525.5zM525.5 346.87H732.3V355.11H525.5zM830.2 355.11H1037.0V363.34H830.2zM525.5 363.34H732.3V371.58H525.5zM781.2 371.58H879.1V379.81H781.2zM732.3 379.81H830.2V388.05H732.3zM830.2 396.28H879.1V404.52H830.2zM525.5 412.75H830.2V420.99H525.5zM879.1 412.75H1037.0V420.99H879.1zM525.5 420.99H634.4V429.22H525.5zM634.4 437.46H879.1V445.69H634.4zM683.4 462.16H879.1V470.40H683.4zM525.5 470.40H1037.0V478.63H525.5zM830.2 478.63H879.1V486.87H830.2zM928.1 478.63H1037.0V486.87H928.1zM830.2 486.87H879.1V495.10H830.2zM781.2 495.10H879.1V503.34H781.2zM634.4 503.34H781.2V511.57H634.4zM781.2 511.57H879.1V519.81H781.2zM928.1 511.57H1037.0V519.81H928.1zM525.5 519.81H732.3V528.04H525.5zM879.1 544.51H1037.0V552.75H879.1zM525.5 552.75H781.2V560.98H525.5zM525.5 560.98H683.4V569.22H525.5zM525.5 569.22H683.4V577.45H525.5zM732.3 569.22H781.2V577.45H732.3zM928.1 585.69H1037.0V593.92H928.1zM879.1 593.92H1037.0V602.16H879.1zM525.5 602.16H830.2V610.39H525.5zM525.5 610.39H830.2V618.63H525.5zM830.2 618.63H879.1V626.86H830.2zM525.5 626.86H781.2V635.10H525.5zM525.5 659.80H732.3V668.04H525.5zM781.2 676.27H830.2V684.51H781.2zM879.1 676.27H1037.0V684.51H879.1zM525.5 684.51H781.2V692.74H525.5zM781.2 709.21H1037.0V717.45H781.2zM525.5 742.15H879.1V750.39H525.5zM525.5 750.39H781.2V758.62H525.5zM879.1 766.86H1037.0V775.09H879.1zM525.5 775.09H732.3V783.33H525.5zM879.1 775.09H1037.0V783.33H879.1zM525.5 824.50H928.1V832.74H525.5zM525.5 840.97H781.2V849.21H525.5zM781.2 865.68H879.1V873.91H781.2zM525.5 873.91H830.2V882.15H525.5zM830.2 882.15H1037.0V890.38H830.2zM525.5 915.09H830.2V923.32H525.5zM928.1 915.09H1037.0V923.32H928.1zM525.5 939.79H732.3V948.03H525.5zM928.1 948.03H1037.0V956.26H928.1zM525.5 956.26H830.2V964.50H525.5zM525.5 964.50H830.2V972.73H525.5zM525.5 972.73H781.2V980.97H525.5zM830.2 980.97H879.1V989.20H830.2zM928.1 1005.67H1037.0V1013.91H928.1zM879.1 1022.14H1037.0V1030.38H879.1z"/>
<path fill="#444444" d="M879.1 116.29H1037.0V124.53H879.1zM879.1 173.94H1037.0V182.17H879.1zM781.2 289.23H1037.0V297.46H781.2zM732.3 322.17H830.2V330.40H732.3zM732.3 346.87H1037.0V355.11H732.3zM732.3 363.34H879.1V371.58H732.3zM879.1 388.05H1037.0V396.28H879.1zM879.1 396.28H1037.0V404.52H879.1zM830.2 412.75H879.1V420.99H830.2zM634.4 420.99H1037.0V429.22H634.4zM879.1 437.46H1037.0V445.69H879.1zM879.1 462.16H1037.0V470.40H879.1zM879.1 486.87H1037.0V495.10H879.1zM781.2 503.34H1037.0V511.57H781.2zM732.3 519.81H1037.0V528.04H732.3zM879.1 618.63H1037.0V626.86H879.1zM781.2 626.86H1037.0V635.10H781.2zM525.5 676.27H781.2V684.51H525.5zM781.2 684.51H1037.0V692.74H781.2zM781.2 750.39H1037.0V758.62H781.2zM879.1 865.68H1037.0V873.91H879.1zM830.2 873.91H1037.0V882.15H830.2zM830.2 915.09H928.1V923.32H830.2zM830.2 956.26H1037.0V964.50H830.2zM781.2 972.73H1037.0V980.97H781.2zM879.1 980.97H1037.0V989.20H879.1z"/>
<path fill="#d9d9d9" d="M928.1 783.33H1037.0V791.56H928.1zM928.1 808.03H1037.0V816.27H928.1zM928.1 1038.61H1037.0V1091.00H928.1z"/>
</g></g>
<g stroke="#000" stroke-width="3.6" stroke-dasharray="4.2 13.75" fill="none"><line x1="633.9" y1="70.66" x2="633.9" y2="1049" stroke-width="3.4"/><line x1="732.4" y1="70.66" x2="732.4" y2="1049" stroke-width="3.4"/><line x1="830.9" y1="70.66" x2="830.9" y2="1049" stroke-width="3.4"/><line x1="929.4" y1="70.66" x2="929.4" y2="1049" stroke-width="3.4"/><line x1="585.3" y1="219.2" x2="975" y2="219.2"/><line x1="585.3" y1="383.9" x2="975" y2="383.9"/><line x1="585.3" y1="548.6" x2="975" y2="548.6"/><line x1="585.3" y1="713.3" x2="975" y2="713.3"/><line x1="585.3" y1="878.0" x2="975" y2="878.0"/><line x1="585.3" y1="1042.7" x2="975" y2="1042.7"/></g>
<rect x="587.0" y="71.5" width="388.5" height="978" fill="none" stroke="#000" stroke-width="3"/>
<text x="574.6" y="32" font-size="38" textLength="201.2" lengthAdjust="spacingAndGlyphs">(b)Dynamic</text>
<text x="633.9" y="1089.5" font-size="40.5" text-anchor="middle">25N</text>
<text x="732.4" y="1089.5" font-size="40.5" text-anchor="middle">35N</text>
<text x="830.9" y="1089.5" font-size="40.5" text-anchor="middle">45N</text>
<text x="929.4" y="1089.5" font-size="40.5" text-anchor="middle">55N</text>
<clipPath id="cpc"><rect x="1019" y="72" width="388" height="977"/></clipPath>
<g clip-path="url(#cpc)"><g filter="url(#hm)">
<path fill="#646464" d="M957.0 30.00H1164.0V75.12H957.0zM1262.0 30.00H1360.0V75.12H1262.0zM957.0 75.12H1164.0V83.35H957.0zM1262.0 75.12H1311.0V83.35H1262.0zM957.0 83.35H1213.0V91.59H957.0zM957.0 91.59H1262.0V99.82H957.0zM1066.0 99.82H1213.0V108.06H1066.0zM1262.0 99.82H1311.0V108.06H1262.0zM1115.0 108.06H1213.0V116.29H1115.0zM1311.0 108.06H1469.0V116.29H1311.0zM957.0 116.29H1262.0V124.53H957.0zM1066.0 124.53H1262.0V132.76H1066.0zM1115.0 132.76H1213.0V141.00H1115.0zM957.0 141.00H1213.0V149.23H957.0zM957.0 149.23H1213.0V157.47H957.0zM1360.0 149.23H1469.0V157.47H1360.0zM957.0 157.47H1164.0V165.70H957.0zM957.0 165.70H1164.0V173.94H957.0zM1360.0 165.70H1469.0V173.94H1360.0zM957.0 173.94H1213.0V182.17H957.0zM1164.0 182.17H1262.0V190.41H1164.0zM1066.0 190.41H1469.0V198.64H1066.0zM957.0 198.64H1164.0V206.88H957.0zM1262.0 198.64H1360.0V206.88H1262.0zM957.0 206.88H1164.0V215.11H957.0zM957.0 215.11H1164.0V223.35H957.0zM1164.0 223.35H1262.0V231.58H1164.0zM1115.0 231.58H1213.0V239.82H1115.0zM1115.0 239.82H1262.0V248.05H1115.0zM1311.0 239.82H1360.0V248.05H1311.0zM1066.0 248.05H1213.0V256.29H1066.0zM1262.0 248.05H1360.0V256.29H1262.0zM957.0 256.29H1311.0V264.52H957.0zM957.0 264.52H1311.0V272.76H957.0zM1115.0 272.76H1262.0V280.99H1115.0zM1360.0 272.76H1469.0V280.99H1360.0zM1164.0 280.99H1213.0V289.23H1164.0zM1360.0 280.99H1469.0V289.23H1360.0zM1066.0 289.23H1164.0V297.46H1066.0zM1262.0 289.23H1360.0V297.46H1262.0zM957.0 297.46H1115.0V305.70H957.0zM1115.0 305.70H1213.0V313.93H1115.0zM1213.0 313.93H1262.0V322.17H1213.0zM1164.0 322.17H1262.0V330.40H1164.0zM1311.0 322.17H1360.0V330.40H1311.0zM1115.0 346.87H1262.0V355.11H1115.0zM1262.0 355.11H1311.0V363.34H1262.0zM1311.0 371.58H1360.0V379.81H1311.0zM1262.0 388.05H1311.0V396.28H1262.0zM1311.0 396.28H1469.0V404.52H1311.0zM1262.0 404.52H1311.0V412.75H1262.0zM1262.0 412.75H1360.0V420.99H1262.0zM1262.0 420.99H1311.0V429.22H1262.0zM1360.0 420.99H1469.0V429.22H1360.0zM1262.0 429.22H1311.0V437.46H1262.0zM1360.0 429.22H1469.0V437.46H1360.0zM1164.0 437.46H1213.0V445.69H1164.0zM1262.0 437.46H1311.0V445.69H1262.0zM1115.0 445.69H1213.0V453.93H1115.0zM1115.0 462.16H1164.0V470.40H1115.0zM957.0 470.40H1115.0V478.63H957.0zM1213.0 486.87H1360.0V495.10H1213.0zM1262.0 495.10H1469.0V503.34H1262.0zM957.0 503.34H1066.0V511.57H957.0zM957.0 511.57H1213.0V519.81H957.0zM1360.0 511.57H1469.0V519.81H1360.0zM1066.0 519.81H1213.0V528.04H1066.0zM1311.0 519.81H1469.0V528.04H1311.0zM1311.0 552.75H1469.0V560.98H1311.0zM1311.0 560.98H1469.0V569.22H1311.0zM957.0 569.22H1213.0V577.45H957.0zM957.0 577.45H1213.0V585.69H957.0zM1262.0 577.45H1469.0V585.69H1262.0zM1262.0 585.69H1311.0V593.92H1262.0zM1164.0 593.92H1469.0V602.16H1164.0zM957.0 602.16H1164.0V610.39H957.0zM1262.0 602.16H1311.0V610.39H1262.0zM1360.0 602.16H1469.0V610.39H1360.0zM957.0 610.39H1311.0V618.63H957.0zM1066.0 618.63H1311.0V626.86H1066.0zM957.0 626.86H1360.0V635.10H957.0zM957.0 635.10H1066.0V643.33H957.0zM1164.0 635.10H1262.0V643.33H1164.0zM957.0 643.33H1164.0V651.57H957.0zM1360.0 643.33H1469.0V651.57H1360.0zM1311.0 651.57H1469.0V659.80H1311.0zM957.0 659.80H1115.0V668.04H957.0zM1360.0 659.80H1469.0V668.04H1360.0zM957.0 676.27H1115.0V684.51H957.0zM957.0 684.51H1115.0V692.74H957.0zM1213.0 684.51H1262.0V692.74H1213.0zM1066.0 692.74H1115.0V700.98H1066.0zM1262.0 692.74H1469.0V700.98H1262.0zM957.0 725.68H1213.0V733.92H957.0zM957.0 733.92H1164.0V742.15H957.0zM957.0 742.15H1115.0V750.39H957.0zM1213.0 766.86H1311.0V775.09H1213.0zM957.0 808.03H1164.0V816.27H957.0zM1360.0 808.03H1469.0V816.27H1360.0zM1360.0 882.15H1469.0V890.38H1360.0z"/>
<path fill="#747474" d="M1164.0 30.00H1262.0V75.12H1164.0zM1360.0 30.00H1469.0V75.12H1360.0zM1164.0 75.12H1213.0V83.35H1164.0zM1311.0 75.12H1360.0V83.35H1311.0zM1262.0 91.59H1311.0V99.82H1262.0zM957.0 99.82H1066.0V108.06H957.0zM1213.0 99.82H1262.0V108.06H1213.0zM957.0 108.06H1115.0V116.29H957.0zM1262.0 108.06H1311.0V116.29H1262.0zM1262.0 116.29H1311.0V124.53H1262.0zM957.0 124.53H1066.0V132.76H957.0zM1066.0 132.76H1115.0V141.00H1066.0zM1213.0 149.23H1360.0V157.47H1213.0zM1262.0 165.70H1360.0V173.94H1262.0zM1115.0 182.17H1164.0V190.41H1115.0zM1360.0 182.17H1469.0V190.41H1360.0zM957.0 190.41H1066.0V198.64H957.0zM1360.0 215.11H1469.0V223.35H1360.0zM1360.0 231.58H1469.0V239.82H1360.0zM1066.0 239.82H1115.0V248.05H1066.0zM1311.0 256.29H1360.0V264.52H1311.0zM1115.0 280.99H1164.0V289.23H1115.0zM957.0 289.23H1066.0V297.46H957.0zM1164.0 289.23H1213.0V297.46H1164.0zM1115.0 322.17H1164.0V330.40H1115.0zM1360.0 355.11H1469.0V363.34H1360.0zM1311.0 363.34H1360.0V371.58H1311.0zM1262.0 371.58H1311.0V379.81H1262.0zM1311.0 404.52H1360.0V412.75H1311.0zM1213.0 412.75H1262.0V420.99H1213.0zM957.0 420.99H1066.0V429.22H957.0zM1213.0 420.99H1262.0V429.22H1213.0zM1115.0 437.46H1164.0V445.69H1115.0zM957.0 462.16H1115.0V470.40H957.0zM1213.0 478.63H1262.0V486.87H1213.0zM1360.0 478.63H1469.0V486.87H1360.0zM957.0 495.10H1066.0V503.34H957.0zM1213.0 495.10H1262.0V503.34H1213.0zM1066.0 503.34H1115.0V511.57H1066.0zM957.0 519.81H1066.0V528.04H957.0zM957.0 528.04H1066.0V536.28H957.0zM1262.0 552.75H1311.0V560.98H1262.0zM1213.0 560.98H1262.0V569.22H1213.0zM1115.0 593.92H1164.0V602.16H1115.0zM1360.0 610.39H1469.0V618.63H1360.0zM957.0 618.63H1066.0V626.86H957.0zM1262.0 635.10H1311.0V643.33H1262.0zM1164.0 643.33H1213.0V651.57H1164.0zM1262.0 651.57H1311.0V659.80H1262.0zM1164.0 659.80H1213.0V668.04H1164.0zM1360.0 668.04H1469.0V676.27H1360.0zM1115.0 676.27H1164.0V684.51H1115.0zM1360.0 676.27H1469.0V684.51H1360.0zM1115.0 684.51H1164.0V692.74H1115.0zM1115.0 692.74H1164.0V700.98H1115.0zM1213.0 692.74H1262.0V700.98H1213.0zM1311.0 717.45H1360.0V725.68H1311.0zM1164.0 733.92H1213.0V742.15H1164.0zM1360.0 750.39H1469.0V758.62H1360.0zM1262.0 808.03H1311.0V816.27H1262.0zM1066.0 857.44H1115.0V865.68H1066.0zM1311.0 882.15H1360.0V890.38H1311.0zM957.0 980.97H1066.0V989.20H957.0z"/>
<path fill="#7c7c7c" d="M1213.0 75.12H1262.0V83.35H1213.0zM1213.0 83.35H1262.0V91.59H1213.0zM1311.0 91.59H1469.0V99.82H1311.0zM1213.0 108.06H1262.0V116.29H1213.0zM1311.0 116.29H1360.0V124.53H1311.0zM957.0 132.76H1066.0V141.00H957.0zM957.0 182.17H1115.0V190.41H957.0zM1262.0 182.17H1360.0V190.41H1262.0zM1066.0 223.35H1164.0V231.58H1066.0zM1066.0 231.58H1115.0V239.82H1066.0zM957.0 239.82H1066.0V248.05H957.0zM957.0 248.05H1066.0V256.29H957.0zM1311.0 264.52H1469.0V272.76H1311.0zM1066.0 272.76H1115.0V280.99H1066.0zM1213.0 289.23H1262.0V297.46H1213.0zM1164.0 313.93H1213.0V322.17H1164.0zM957.0 322.17H1115.0V330.40H957.0zM957.0 338.64H1115.0V346.87H957.0zM957.0 346.87H1115.0V355.11H957.0zM1213.0 355.11H1262.0V363.34H1213.0zM1262.0 363.34H1311.0V371.58H1262.0zM1164.0 412.75H1213.0V420.99H1164.0zM1360.0 412.75H1469.0V420.99H1360.0zM1066.0 420.99H1115.0V429.22H1066.0zM1311.0 437.46H1469.0V445.69H1311.0zM957.0 445.69H1066.0V453.93H957.0zM1311.0 445.69H1360.0V453.93H1311.0zM1164.0 462.16H1262.0V470.40H1164.0zM1164.0 478.63H1213.0V486.87H1164.0zM1262.0 478.63H1360.0V486.87H1262.0zM1164.0 486.87H1213.0V495.10H1164.0zM1066.0 495.10H1213.0V503.34H1066.0zM1115.0 503.34H1213.0V511.57H1115.0zM1311.0 503.34H1469.0V511.57H1311.0zM1066.0 528.04H1115.0V536.28H1066.0zM1360.0 544.51H1469.0V552.75H1360.0zM1115.0 552.75H1262.0V560.98H1115.0zM1115.0 560.98H1213.0V569.22H1115.0zM1213.0 569.22H1262.0V577.45H1213.0zM1115.0 585.69H1262.0V593.92H1115.0zM1066.0 593.92H1115.0V602.16H1066.0zM1311.0 602.16H1360.0V610.39H1311.0zM1360.0 626.86H1469.0V635.10H1360.0zM1066.0 635.10H1164.0V643.33H1066.0zM1311.0 635.10H1360.0V643.33H1311.0zM1213.0 643.33H1262.0V651.57H1213.0zM1115.0 651.57H1262.0V659.80H1115.0zM1115.0 659.80H1164.0V668.04H1115.0zM1115.0 668.04H1213.0V676.27H1115.0zM1164.0 676.27H1213.0V684.51H1164.0zM1164.0 684.51H1213.0V692.74H1164.0zM957.0 692.74H1066.0V700.98H957.0zM1164.0 692.74H1213.0V700.98H1164.0zM1066.0 700.98H1213.0V709.21H1066.0zM1213.0 725.68H1262.0V733.92H1213.0zM1213.0 733.92H1262.0V742.15H1213.0zM1262.0 742.15H1311.0V750.39H1262.0zM1164.0 808.03H1262.0V816.27H1164.0zM1311.0 808.03H1360.0V816.27H1311.0zM957.0 832.74H1066.0V840.97H957.0zM957.0 840.97H1115.0V849.21H957.0zM1066.0 849.21H1164.0V857.44H1066.0zM1360.0 849.21H1469.0V857.44H1360.0zM1115.0 857.44H1164.0V865.68H1115.0zM1262.0 882.15H1311.0V890.38H1262.0zM957.0 906.85H1066.0V915.09H957.0zM1213.0 956.26H1262.0V964.50H1213.0zM1066.0 980.97H1115.0V989.20H1066.0zM1213.0 980.97H1311.0V989.20H1213.0z"/>
<path fill="#838383" d="M1360.0 75.12H1469.0V83.35H1360.0zM1360.0 116.29H1469.0V124.53H1360.0zM957.0 223.35H1066.0V231.58H957.0zM957.0 231.58H1066.0V239.82H957.0zM1360.0 239.82H1469.0V248.05H1360.0zM1360.0 256.29H1469.0V264.52H1360.0zM957.0 272.76H1066.0V280.99H957.0zM1066.0 305.70H1115.0V313.93H1066.0zM957.0 313.93H1164.0V322.17H957.0zM1262.0 322.17H1311.0V330.40H1262.0zM1360.0 322.17H1469.0V330.40H1360.0zM957.0 330.40H1213.0V338.64H957.0zM1115.0 338.64H1213.0V346.87H1115.0zM1311.0 338.64H1469.0V346.87H1311.0zM1115.0 355.11H1213.0V363.34H1115.0zM1115.0 363.34H1262.0V371.58H1115.0zM1360.0 363.34H1469.0V371.58H1360.0zM1164.0 371.58H1262.0V379.81H1164.0zM1360.0 371.58H1469.0V379.81H1360.0zM957.0 379.81H1066.0V388.05H957.0zM1115.0 379.81H1164.0V388.05H1115.0zM1115.0 388.05H1262.0V396.28H1115.0zM1262.0 396.28H1311.0V404.52H1262.0zM1115.0 404.52H1262.0V412.75H1115.0zM1360.0 404.52H1469.0V412.75H1360.0zM1115.0 412.75H1164.0V420.99H1115.0zM1115.0 420.99H1213.0V429.22H1115.0zM1164.0 429.22H1262.0V437.46H1164.0zM957.0 437.46H1115.0V445.69H957.0zM1066.0 445.69H1115.0V453.93H1066.0zM1360.0 445.69H1469.0V453.93H1360.0zM957.0 453.93H1066.0V462.16H957.0zM1164.0 453.93H1262.0V462.16H1164.0zM1262.0 462.16H1311.0V470.40H1262.0zM957.0 478.63H1066.0V486.87H957.0zM1115.0 478.63H1164.0V486.87H1115.0zM957.0 486.87H1164.0V495.10H957.0zM1213.0 503.34H1311.0V511.57H1213.0zM1115.0 528.04H1213.0V536.28H1115.0zM957.0 536.28H1164.0V544.51H957.0zM1311.0 544.51H1360.0V552.75H1311.0zM957.0 552.75H1115.0V560.98H957.0zM957.0 560.98H1115.0V569.22H957.0zM1262.0 560.98H1311.0V569.22H1262.0zM1360.0 569.22H1469.0V577.45H1360.0zM1066.0 585.69H1115.0V593.92H1066.0zM957.0 593.92H1066.0V602.16H957.0zM1311.0 610.39H1360.0V618.63H1311.0zM1360.0 635.10H1469.0V643.33H1360.0zM957.0 651.57H1115.0V659.80H957.0zM1213.0 659.80H1360.0V668.04H1213.0zM957.0 668.04H1115.0V676.27H957.0zM957.0 700.98H1066.0V709.21H957.0zM1213.0 700.98H1311.0V709.21H1213.0zM1066.0 709.21H1262.0V717.45H1066.0zM1115.0 717.45H1311.0V725.68H1115.0zM1360.0 717.45H1469.0V725.68H1360.0zM1115.0 742.15H1262.0V750.39H1115.0zM1360.0 742.15H1469.0V750.39H1360.0zM957.0 750.39H1164.0V758.62H957.0zM1066.0 758.62H1213.0V766.86H1066.0zM1360.0 758.62H1469.0V766.86H1360.0zM1115.0 766.86H1213.0V775.09H1115.0zM1311.0 766.86H1469.0V775.09H1311.0zM957.0 775.09H1164.0V783.33H957.0zM957.0 783.33H1115.0V791.56H957.0zM957.0 791.56H1115.0V799.80H957.0zM1066.0 799.80H1164.0V808.03H1066.0zM957.0 816.27H1164.0V824.50H957.0zM1360.0 816.27H1469.0V824.50H1360.0zM1066.0 832.74H1164.0V840.97H1066.0zM1360.0 832.74H1469.0V840.97H1360.0zM1115.0 840.97H1164.0V849.21H1115.0zM1164.0 849.21H1213.0V857.44H1164.0zM1213.0 882.15H1262.0V890.38H1213.0zM1213.0 898.62H1311.0V906.85H1213.0zM1066.0 906.85H1115.0V915.09H1066.0zM957.0 931.56H1066.0V939.79H957.0zM957.0 939.79H1066.0V948.03H957.0zM957.0 956.26H1115.0V964.50H957.0zM1164.0 956.26H1213.0V964.50H1164.0zM1262.0 956.26H1311.0V964.50H1262.0zM957.0 964.50H1115.0V972.73H957.0zM1115.0 980.97H1213.0V989.20H1115.0zM1311.0 980.97H1360.0V989.20H1311.0zM957.0 989.20H1066.0V997.44H957.0zM957.0 1005.67H1066.0V1013.91H957.0zM1066.0 1030.38H1164.0V1038.61H1066.0z"/>
<path fill="#444444" d="M1262.0 83.35H1469.0V91.59H1262.0zM1311.0 99.82H1469.0V108.06H1311.0zM1262.0 124.53H1469.0V132.76H1262.0zM1213.0 132.76H1469.0V141.00H1213.0zM1213.0 141.00H1469.0V149.23H1213.0zM1164.0 157.47H1469.0V165.70H1164.0zM1164.0 165.70H1262.0V173.94H1164.0zM1213.0 173.94H1469.0V182.17H1213.0zM1164.0 198.64H1262.0V206.88H1164.0zM1360.0 198.64H1469.0V206.88H1360.0zM1164.0 206.88H1469.0V215.11H1164.0zM1164.0 215.11H1360.0V223.35H1164.0zM1262.0 223.35H1469.0V231.58H1262.0zM1213.0 231.58H1360.0V239.82H1213.0zM1262.0 239.82H1311.0V248.05H1262.0zM1213.0 248.05H1262.0V256.29H1213.0zM1262.0 272.76H1360.0V280.99H1262.0zM1213.0 280.99H1360.0V289.23H1213.0zM1115.0 297.46H1469.0V305.70H1115.0zM1213.0 305.70H1469.0V313.93H1213.0zM1262.0 313.93H1360.0V322.17H1262.0zM1262.0 346.87H1469.0V355.11H1262.0zM1311.0 355.11H1360.0V363.34H1311.0zM1311.0 388.05H1469.0V396.28H1311.0zM1311.0 420.99H1360.0V429.22H1311.0zM1311.0 429.22H1360.0V437.46H1311.0zM1213.0 437.46H1262.0V445.69H1213.0zM1213.0 445.69H1311.0V453.93H1213.0zM1115.0 470.40H1469.0V478.63H1115.0zM1360.0 486.87H1469.0V495.10H1360.0zM1213.0 511.57H1360.0V519.81H1213.0zM1213.0 519.81H1311.0V528.04H1213.0zM1213.0 577.45H1262.0V585.69H1213.0zM1311.0 585.69H1469.0V593.92H1311.0zM1164.0 602.16H1262.0V610.39H1164.0zM1311.0 618.63H1469.0V626.86H1311.0zM1262.0 684.51H1469.0V692.74H1262.0z"/>
<path fill="#8b8b8b" d="M1360.0 248.05H1469.0V256.29H1360.0zM957.0 280.99H1115.0V289.23H957.0zM1360.0 289.23H1469.0V297.46H1360.0zM957.0 305.70H1066.0V313.93H957.0zM1360.0 313.93H1469.0V322.17H1360.0zM1213.0 330.40H1360.0V338.64H1213.0zM1213.0 338.64H1262.0V346.87H1213.0zM957.0 355.11H1115.0V363.34H957.0zM957.0 363.34H1115.0V371.58H957.0zM957.0 371.58H1066.0V379.81H957.0zM1066.0 379.81H1115.0V388.05H1066.0zM1164.0 379.81H1213.0V388.05H1164.0zM1262.0 379.81H1469.0V388.05H1262.0zM1066.0 388.05H1115.0V396.28H1066.0zM1115.0 396.28H1164.0V404.52H1115.0zM1066.0 453.93H1164.0V462.16H1066.0zM1262.0 453.93H1311.0V462.16H1262.0zM1311.0 462.16H1469.0V470.40H1311.0zM1066.0 478.63H1115.0V486.87H1066.0zM1213.0 528.04H1262.0V536.28H1213.0zM1360.0 528.04H1469.0V536.28H1360.0zM1164.0 536.28H1213.0V544.51H1164.0zM957.0 544.51H1164.0V552.75H957.0zM1262.0 544.51H1311.0V552.75H1262.0zM1311.0 569.22H1360.0V577.45H1311.0zM957.0 585.69H1066.0V593.92H957.0zM1262.0 643.33H1360.0V651.57H1262.0zM1213.0 668.04H1262.0V676.27H1213.0zM1311.0 700.98H1469.0V709.21H1311.0zM957.0 709.21H1066.0V717.45H957.0zM1262.0 709.21H1469.0V717.45H1262.0zM1066.0 717.45H1115.0V725.68H1066.0zM1164.0 750.39H1213.0V758.62H1164.0zM957.0 758.62H1066.0V766.86H957.0zM1213.0 758.62H1262.0V766.86H1213.0zM1311.0 758.62H1360.0V766.86H1311.0zM1066.0 766.86H1115.0V775.09H1066.0zM1115.0 783.33H1164.0V791.56H1115.0zM1115.0 791.56H1164.0V799.80H1115.0zM1164.0 816.27H1360.0V824.50H1164.0zM1066.0 824.50H1164.0V832.74H1066.0zM1360.0 840.97H1469.0V849.21H1360.0zM1164.0 898.62H1213.0V906.85H1164.0zM1311.0 898.62H1360.0V906.85H1311.0zM1115.0 972.73H1311.0V980.97H1115.0z"/>
<path fill="#9b9b9b" d="M1360.0 330.40H1469.0V338.64H1360.0zM1262.0 338.64H1311.0V346.87H1262.0zM1066.0 371.58H1164.0V379.81H1066.0zM1213.0 379.81H1262.0V388.05H1213.0zM957.0 388.05H1066.0V396.28H957.0zM957.0 396.28H1115.0V404.52H957.0zM1164.0 396.28H1262.0V404.52H1164.0zM957.0 404.52H1115.0V412.75H957.0zM957.0 412.75H1115.0V420.99H957.0zM957.0 429.22H1164.0V437.46H957.0zM1311.0 453.93H1469.0V462.16H1311.0zM1262.0 528.04H1360.0V536.28H1262.0zM1213.0 536.28H1262.0V544.51H1213.0zM1360.0 536.28H1469.0V544.51H1360.0zM1164.0 544.51H1262.0V552.75H1164.0zM1262.0 569.22H1311.0V577.45H1262.0zM1262.0 668.04H1360.0V676.27H1262.0zM1213.0 676.27H1262.0V684.51H1213.0zM1311.0 676.27H1360.0V684.51H1311.0zM957.0 717.45H1066.0V725.68H957.0zM1262.0 725.68H1469.0V733.92H1262.0zM1262.0 733.92H1311.0V742.15H1262.0zM1311.0 742.15H1360.0V750.39H1311.0zM1213.0 750.39H1360.0V758.62H1213.0zM1262.0 758.62H1311.0V766.86H1262.0zM957.0 766.86H1066.0V775.09H957.0zM1164.0 775.09H1213.0V783.33H1164.0zM1360.0 775.09H1469.0V783.33H1360.0zM1164.0 783.33H1213.0V791.56H1164.0zM1164.0 791.56H1262.0V799.80H1164.0zM957.0 799.80H1066.0V808.03H957.0zM1164.0 799.80H1262.0V808.03H1164.0zM957.0 824.50H1066.0V832.74H957.0zM1164.0 824.50H1213.0V832.74H1164.0zM1360.0 824.50H1469.0V832.74H1360.0zM1164.0 832.74H1213.0V840.97H1164.0zM1311.0 832.74H1360.0V840.97H1311.0zM1164.0 840.97H1213.0V849.21H1164.0zM1262.0 840.97H1360.0V849.21H1262.0zM957.0 849.21H1066.0V857.44H957.0zM1213.0 849.21H1360.0V857.44H1213.0zM957.0 857.44H1066.0V865.68H957.0zM1164.0 857.44H1213.0V865.68H1164.0zM1360.0 857.44H1469.0V865.68H1360.0zM1360.0 865.68H1469.0V873.91H1360.0zM957.0 873.91H1469.0V882.15H957.0zM957.0 882.15H1213.0V890.38H957.0zM957.0 890.38H1164.0V898.62H957.0zM957.0 898.62H1164.0V906.85H957.0zM1360.0 898.62H1469.0V906.85H1360.0zM1115.0 906.85H1213.0V915.09H1115.0zM1311.0 906.85H1360.0V915.09H1311.0zM957.0 915.09H1213.0V923.32H957.0zM957.0 923.32H1164.0V931.56H957.0zM1360.0 923.32H1469.0V931.56H1360.0zM1066.0 931.56H1164.0V939.79H1066.0zM1066.0 939.79H1164.0V948.03H1066.0zM1360.0 939.79H1469.0V948.03H1360.0zM957.0 948.03H1213.0V956.26H957.0zM1311.0 948.03H1469.0V956.26H1311.0zM1115.0 956.26H1164.0V964.50H1115.0zM1311.0 956.26H1469.0V964.50H1311.0zM1115.0 964.50H1164.0V972.73H1115.0zM1213.0 964.50H1469.0V972.73H1213.0zM957.0 972.73H1115.0V980.97H957.0zM1311.0 972.73H1469.0V980.97H1311.0zM1360.0 980.97H1469.0V989.20H1360.0zM1066.0 989.20H1164.0V997.44H1066.0zM957.0 997.44H1164.0V1005.67H957.0zM1066.0 1005.67H1115.0V1013.91H1066.0zM957.0 1013.91H1115.0V1022.14H957.0zM1262.0 1013.91H1311.0V1022.14H1262.0zM957.0 1022.14H1164.0V1030.38H957.0zM957.0 1030.38H1066.0V1038.61H957.0zM1164.0 1030.38H1213.0V1038.61H1164.0z"/>
<path fill="#bbbbbb" d="M1262.0 536.28H1360.0V544.51H1262.0zM1262.0 676.27H1311.0V684.51H1262.0zM1311.0 733.92H1469.0V742.15H1311.0zM1213.0 775.09H1360.0V783.33H1213.0zM1213.0 783.33H1469.0V791.56H1213.0zM1262.0 791.56H1469.0V799.80H1262.0zM1262.0 799.80H1469.0V808.03H1262.0zM1213.0 824.50H1360.0V832.74H1213.0zM1213.0 832.74H1311.0V840.97H1213.0zM1213.0 840.97H1262.0V849.21H1213.0zM1213.0 857.44H1360.0V865.68H1213.0zM957.0 865.68H1360.0V873.91H957.0zM1164.0 890.38H1469.0V898.62H1164.0zM1213.0 906.85H1311.0V915.09H1213.0zM1360.0 906.85H1469.0V915.09H1360.0zM1213.0 915.09H1262.0V923.32H1213.0zM1311.0 915.09H1469.0V923.32H1311.0zM1164.0 923.32H1213.0V931.56H1164.0zM1262.0 923.32H1360.0V931.56H1262.0zM1164.0 931.56H1469.0V939.79H1164.0zM1164.0 939.79H1360.0V948.03H1164.0zM1213.0 948.03H1311.0V956.26H1213.0zM1164.0 964.50H1213.0V972.73H1164.0zM1164.0 989.20H1311.0V997.44H1164.0zM1164.0 997.44H1311.0V1005.67H1164.0zM1115.0 1005.67H1311.0V1013.91H1115.0zM1115.0 1013.91H1262.0V1022.14H1115.0zM1311.0 1013.91H1469.0V1022.14H1311.0zM1164.0 1022.14H1469.0V1030.38H1164.0zM1213.0 1030.38H1469.0V1038.61H1213.0zM957.0 1038.61H1360.0V1091.00H957.0z"/>
<path fill="#d9d9d9" d="M1262.0 915.09H1311.0V923.32H1262.0zM1213.0 923.32H1262.0V931.56H1213.0zM1311.0 989.20H1469.0V997.44H1311.0zM1311.0 997.44H1360.0V1005.67H1311.0zM1311.0 1005.67H1360.0V1013.91H1311.0zM1360.0 1038.61H1469.0V1091.00H1360.0z"/>
<path fill="#efefef" d="M1360.0 997.44H1469.0V1005.67H1360.0zM1360.0 1005.67H1469.0V1013.91H1360.0z"/>
</g></g>
<g stroke="#000" stroke-width="3.6" stroke-dasharray="4.2 13.75" fill="none"><line x1="1065.4" y1="70.66" x2="1065.4" y2="1049" stroke-width="3.4"/><line x1="1163.9" y1="70.66" x2="1163.9" y2="1049" stroke-width="3.4"/><line x1="1262.4" y1="70.66" x2="1262.4" y2="1049" stroke-width="3.4"/><line x1="1360.9" y1="70.66" x2="1360.9" y2="1049" stroke-width="3.4"/><line x1="1016.8" y1="219.2" x2="1407" y2="219.2"/><line x1="1016.8" y1="383.9" x2="1407" y2="383.9"/><line x1="1016.8" y1="548.6" x2="1407" y2="548.6"/><line x1="1016.8" y1="713.3" x2="1407" y2="713.3"/><line x1="1016.8" y1="878.0" x2="1407" y2="878.0"/><line x1="1016.8" y1="1042.7" x2="1407" y2="1042.7"/></g>
<rect x="1018.5" y="71.5" width="389" height="978" fill="none" stroke="#000" stroke-width="3"/>
<text x="1002.1" y="32" font-size="38" textLength="326.1" lengthAdjust="spacingAndGlyphs">(c)Thermodynamic</text>
<text x="1065.4" y="1089.5" font-size="40.5" text-anchor="middle">25N</text>
<text x="1163.9" y="1089.5" font-size="40.5" text-anchor="middle">35N</text>
<text x="1262.4" y="1089.5" font-size="40.5" text-anchor="middle">45N</text>
<text x="1360.9" y="1089.5" font-size="40.5" text-anchor="middle">55N</text>
<text transform="translate(149,64.3) rotate(-45)" font-size="40.5" text-anchor="end">1902</text>
<text transform="translate(149,212.5) rotate(-45)" font-size="40.5" text-anchor="end">1920</text>
<text transform="translate(149,377.2) rotate(-45)" font-size="40.5" text-anchor="end">1940</text>
<text transform="translate(149,541.9) rotate(-45)" font-size="40.5" text-anchor="end">1960</text>
<text transform="translate(149,706.6) rotate(-45)" font-size="40.5" text-anchor="end">1980</text>
<text transform="translate(149,871.3) rotate(-45)" font-size="40.5" text-anchor="end">2000</text>
<text transform="translate(149,1036.0) rotate(-45)" font-size="40.5" text-anchor="end">2020</text>
<text transform="translate(31.5,553.4) rotate(-90)" font-size="39.3" text-anchor="middle" textLength="83.6" lengthAdjust="spacingAndGlyphs">Year</text>
<text x="770.75" y="1138" font-size="38" text-anchor="middle" textLength="140.7" lengthAdjust="spacingAndGlyphs">Latitude</text>
<polygon points="240,1177.5 329.6,1166 329.6,1189" fill="#1a6fb8" stroke="#000" stroke-width="2" stroke-linejoin="miter"/>
<polygon points="1318.5,1177.5 1228.8,1166 1228.8,1189" fill="#e8302e" stroke="#000" stroke-width="2"/>
<rect x="329.6" y="1166" width="89.9" height="23" fill="#1a85cc" stroke="#000" stroke-width="2"/>
<rect x="419.5" y="1166" width="89.9" height="23" fill="#1aa0e0" stroke="#000" stroke-width="2"/>
<rect x="509.4" y="1166" width="89.9" height="23" fill="#4cb8ee" stroke="#000" stroke-width="2"/>
<rect x="599.4" y="1166" width="89.9" height="23" fill="#80d2fc" stroke="#000" stroke-width="2"/>
<rect x="689.3" y="1166" width="89.9" height="23" fill="#dcf2fd" stroke="#000" stroke-width="2"/>
<rect x="779.2" y="1166" width="89.9" height="23" fill="#fef0e2" stroke="#000" stroke-width="2"/>
<rect x="869.1" y="1166" width="89.9" height="23" fill="#fddcb6" stroke="#000" stroke-width="2"/>
<rect x="959.0" y="1166" width="89.9" height="23" fill="#fbb840" stroke="#000" stroke-width="2"/>
<rect x="1049.0" y="1166" width="89.9" height="23" fill="#f7952a" stroke="#000" stroke-width="2"/>
<rect x="1138.9" y="1166" width="89.9" height="23" fill="#ef6535" stroke="#000" stroke-width="2"/>
<text x="329.6" y="1222" font-size="34" text-anchor="middle">-2.5</text>
<text x="419.5" y="1222" font-size="34" text-anchor="middle">-2.0</text>
<text x="509.4" y="1222" font-size="34" text-anchor="middle">-1.0</text>
<text x="599.4" y="1222" font-size="34" text-anchor="middle">-0.4</text>
<text x="689.3" y="1222" font-size="34" text-anchor="middle">-0.2</text>
<text x="779.2" y="1222" font-size="34" text-anchor="middle">0</text>
<text x="869.1" y="1222" font-size="34" text-anchor="middle">0.2</text>
<text x="959.0" y="1222" font-size="34" text-anchor="middle">0.4</text>
<text x="1049.0" y="1222" font-size="34" text-anchor="middle">1.0</text>
<text x="1138.9" y="1222" font-size="34" text-anchor="middle">2.0</text>
<text x="1228.8" y="1222" font-size="34" text-anchor="middle">2.5</text>
<text x="1273.3" y="1219.5" font-size="33">(</text><text x="1282.6" y="1202.5" font-size="16">o</text><text x="1290.6" y="1219.5" font-size="30.5">C</text><text x="1314.3" y="1219.5" font-size="33">)</text>
<rect x="160" y="1269.6" width="1245" height="622.9000000000001" fill="#fff"/>
<rect x="162.5" y="1269.6" width="193.3" height="622.9000000000001" fill="#f4f3fd"/>
<rect x="372.2" y="1269.6" width="187.7" height="622.9000000000001" fill="#f4f3fd"/>
<rect x="576.2" y="1269.6" width="187.7" height="622.9000000000001" fill="#f4f3fd"/>
<rect x="780.2" y="1269.6" width="187.7" height="622.9000000000001" fill="#f4f3fd"/>
<rect x="984.2" y="1269.6" width="187.7" height="622.9000000000001" fill="#f4f3fd"/>
<rect x="1188.2" y="1269.6" width="187.7" height="622.9000000000001" fill="#f4f3fd"/>
<rect x="1375.8" y="1269.6" width="29.2" height="622.9000000000001" fill="#fccacb"/>
<line x1="157.1" y1="1643.4" x2="1405" y2="1643.4" stroke="#000" stroke-width="4" stroke-dasharray="4 11.5"/>
<clipPath id="cpd"><rect x="160" y="1269.6" width="1245" height="622.9000000000001"/></clipPath><g clip-path="url(#cpd)">
<polyline points="160.0,1650.9 180.4,1659.6 200.8,1588.6 221.2,1573.6 241.6,1672.1 262.0,1667.1 282.4,1716.9 302.8,1729.4 323.2,1748.1 343.6,1830.3 364.0,1826.6 384.4,1709.4 404.8,1593.6 425.2,1597.3 445.6,1659.6 466.0,1608.5 486.4,1581.1 506.8,1841.5 527.2,1617.2 547.6,1541.2 568.0,1662.1 588.4,1568.6 608.8,1597.3 629.2,1573.6 649.6,1642.2 670.0,1736.9 690.4,1639.7 710.8,1624.7 731.2,1680.8 751.6,1409.2 772.0,1487.7 792.4,1477.7 812.8,1543.7 833.2,1502.6 853.6,1607.3 874.0,1446.5 894.4,1531.3 914.8,1535.0 935.2,1467.7 955.6,1521.3 976.0,1574.9 996.4,1715.7 1016.8,1316.9 1037.2,1574.9 1057.6,1483.9 1078.0,1609.8 1098.4,1568.6 1118.8,1383.0 1139.2,1449.0 1159.6,1495.1 1180.0,1728.1 1200.4,1581.1 1220.8,1672.1 1241.2,1680.8 1261.6,1412.9 1282.0,1370.5 1302.4,1493.9 1322.8,1421.6 1343.2,1547.5 1363.6,1417.9 1384.0,1360.6 1404.4,1388.0" fill="none" stroke="#b4b4bc" stroke-width="5.2" stroke-linejoin="miter" stroke-miterlimit="3"/>
<polyline points="160.0,1675.8 180.4,1653.4 200.8,1573.6 221.2,1592.3 241.6,1587.3 262.0,1634.7 282.4,1649.6 302.8,1672.1 323.2,1637.2 343.6,1745.6 364.0,1763.0 384.4,1673.3 404.8,1583.6 425.2,1546.2 445.6,1655.9 466.0,1607.3 486.4,1617.2 506.8,1804.1 527.2,1554.9 547.6,1532.5 568.0,1695.7 588.4,1579.9 608.8,1626.0 629.2,1596.1 649.6,1653.4 670.0,1773.0 690.4,1678.3 710.8,1628.4 731.2,1736.9 751.6,1532.5 772.0,1588.6 792.4,1617.2 812.8,1521.3 833.2,1482.7 853.6,1708.2 874.0,1525.0 894.4,1627.2 914.8,1577.4 935.2,1558.7 955.6,1726.9 976.0,1673.3 996.4,1741.8 1016.8,1491.4 1037.2,1602.3 1057.6,1608.5 1078.0,1705.7 1098.4,1748.1 1118.8,1520.0 1139.2,1623.5 1159.6,1629.7 1180.0,1771.7 1200.4,1674.6 1220.8,1769.2 1241.2,1694.5 1261.6,1567.4 1282.0,1523.8 1302.4,1664.6 1322.8,1578.6 1343.2,1685.8 1363.6,1551.2 1384.0,1471.5 1404.4,1652.1" fill="none" stroke="#4a6fdc" stroke-width="3" stroke-linejoin="miter" stroke-miterlimit="3"/>
<polyline points="160.0,1618.5 180.4,1650.9 200.8,1659.6 221.2,1626.0 241.6,1728.1 262.0,1673.3 282.4,1711.9 302.8,1702.0 323.2,1750.6 343.6,1729.4 364.0,1706.9 384.4,1687.0 404.8,1653.4 425.2,1695.7 445.6,1647.1 466.0,1649.6 486.4,1604.8 506.8,1683.3 527.2,1714.4 547.6,1639.7 568.0,1624.7 588.4,1633.4 608.8,1617.2 629.2,1618.5 649.6,1630.9 670.0,1606.0 690.4,1596.1 710.8,1640.9 731.2,1578.6 751.6,1525.0 772.0,1541.2 792.4,1502.6 812.8,1668.3 833.2,1659.6 853.6,1542.5 874.0,1563.7 894.4,1546.2 914.8,1598.5 935.2,1553.7 955.6,1441.5 976.0,1531.3 996.4,1616.0 1016.8,1473.9 1037.2,1616.0 1057.6,1517.6 1078.0,1546.2 1098.4,1464.0 1118.8,1508.8 1139.2,1466.5 1159.6,1506.3 1180.0,1599.8 1200.4,1551.2 1220.8,1543.7 1241.2,1629.7 1261.6,1490.1 1282.0,1490.1 1302.4,1472.7 1322.8,1485.2 1343.2,1503.8 1363.6,1506.3 1384.0,1533.8 1404.4,1394.2" fill="none" stroke="#d4183e" stroke-width="3" stroke-linejoin="miter" stroke-miterlimit="3"/>
</g>
<line x1="238" y1="1327.5" x2="301.5" y2="1327.5" stroke="#77777f" stroke-width="5.5"/>
<line x1="238" y1="1375.2" x2="301.5" y2="1375.2" stroke="#4a6fdc" stroke-width="3"/>
<line x1="238" y1="1427.7" x2="301.5" y2="1427.7" stroke="#d4183e" stroke-width="3"/>
<text x="313.8" y="1341.5" font-size="38" fill="#77777f" textLength="78.8" lengthAdjust="spacingAndGlyphs">Raw</text>
<text x="313.8" y="1389.3" font-size="38" fill="#4060d4" textLength="154.3" lengthAdjust="spacingAndGlyphs">Dynamic</text>
<text x="316" y="1441.8" font-size="38" fill="#d0103a" textLength="280" lengthAdjust="spacingAndGlyphs">Thermodynamic</text>
<rect x="158.5" y="1268.1" width="1248" height="625.9000000000001" fill="none" stroke="#000" stroke-width="3"/>
<g stroke="#000" stroke-width="3"><line x1="160" y1="1768.0" x2="175" y2="1768.0"/><line x1="1392" y1="1768.0" x2="1405" y2="1768.0"/><line x1="160" y1="1643.4" x2="175" y2="1643.4"/><line x1="1392" y1="1643.4" x2="1405" y2="1643.4"/><line x1="160" y1="1518.8" x2="175" y2="1518.8"/><line x1="1392" y1="1518.8" x2="1405" y2="1518.8"/><line x1="160" y1="1394.2" x2="175" y2="1394.2"/><line x1="1392" y1="1394.2" x2="1405" y2="1394.2"/></g>
<text x="145.4" y="1281.8" font-size="35.5" text-anchor="end">3</text>
<text x="145.4" y="1406.4" font-size="35.5" text-anchor="end">2</text>
<text x="145.4" y="1531.0" font-size="35.5" text-anchor="end">1</text>
<text x="145.4" y="1655.6" font-size="35.5" text-anchor="end">0</text>
<text x="145.4" y="1780.2" font-size="35.5" text-anchor="end">-1</text>
<text x="145.4" y="1904.8" font-size="35.5" text-anchor="end">-2</text>
<text x="159.5" y="1949.4" font-size="35" text-anchor="middle">1960</text>
<text x="363.5" y="1949.4" font-size="35" text-anchor="middle">1970</text>
<text x="567.5" y="1949.4" font-size="35" text-anchor="middle">1980</text>
<text x="771.5" y="1949.4" font-size="35" text-anchor="middle">1990</text>
<text x="975.5" y="1949.4" font-size="35" text-anchor="middle">2000</text>
<text x="1179.5" y="1949.4" font-size="35" text-anchor="middle">2010</text>
<text x="1383.5" y="1949.4" font-size="35" text-anchor="middle">2020</text>
<text x="782" y="1983.5" font-size="35" text-anchor="middle">Year</text>
<text transform="translate(87.5,1606.8) rotate(-90)" font-size="34" text-anchor="middle" textLength="441.5" lengthAdjust="spacingAndGlyphs">(d) Temperature anomaly (°C)</text>
</svg></body></html>
